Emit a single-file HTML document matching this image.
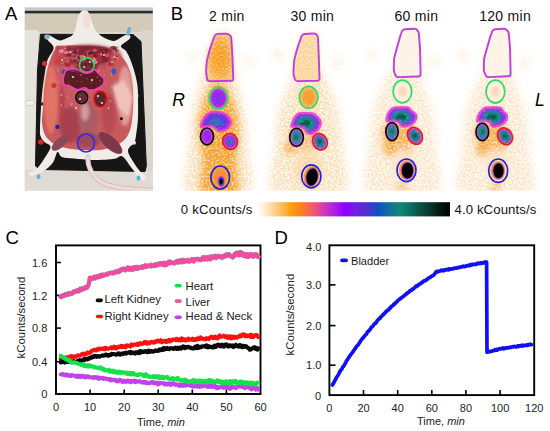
<!DOCTYPE html>
<html><head><meta charset="utf-8"><style>
html,body{margin:0;padding:0;background:#fff;overflow:hidden;width:550px;height:431px;}
svg{display:block;}
</style></head><body>
<svg width="550" height="431" viewBox="0 0 550 431" font-family="Liberation Sans, sans-serif">
<rect width="550" height="431" fill="#fff"/>
<defs>
<clipPath id="phclip"><rect x="24.8" y="7.6" width="128" height="182.8"/></clipPath>
<filter id="pb1" filterUnits="userSpaceOnUse" x="20" y="0" width="140" height="200"><feGaussianBlur stdDeviation="0.7"/></filter>
<filter id="pb2" filterUnits="userSpaceOnUse" x="20" y="0" width="140" height="200"><feGaussianBlur stdDeviation="1.8"/></filter>
<filter id="pb3" filterUnits="userSpaceOnUse" x="20" y="0" width="140" height="200"><feGaussianBlur stdDeviation="3"/></filter>
<filter id="ptex" filterUnits="userSpaceOnUse" x="20" y="0" width="140" height="200">
 <feTurbulence type="fractalNoise" baseFrequency="0.3" numOctaves="2" seed="4" result="n"/>
 <feColorMatrix in="n" type="matrix" values="0 0 0 0 1  0 0 0 0 0.82  0 0 0 0 0.84  0 0 0 2.6 -1.75" result="na"/>
 <feComposite in="na" in2="SourceGraphic" operator="in"/>
 <feGaussianBlur stdDeviation="0.35"/>
</filter>
<filter id="ptex2" filterUnits="userSpaceOnUse" x="20" y="0" width="140" height="200">
 <feTurbulence type="fractalNoise" baseFrequency="0.3" numOctaves="2" seed="9" result="n"/>
 <feColorMatrix in="n" type="matrix" values="0 0 0 0 0.35  0 0 0 0 0.05  0 0 0 0 0.1  0 0 0 2.4 -1.2" result="na"/>
 <feComposite in="na" in2="SourceGraphic" operator="in"/>
 <feGaussianBlur stdDeviation="0.5"/>
</filter>
</defs>
<g clip-path="url(#phclip)">
<rect x="24" y="7" width="130" height="184" fill="#dcd6cc"/>
<g filter="url(#pb1)"><rect x="20" y="13" width="140" height="19" fill="#d4cab8"/><rect x="20" y="30" width="18" height="142" fill="#e6e2dc"/><rect x="142" y="30" width="14" height="142" fill="#dbd6cd"/><rect x="20" y="170" width="140" height="22" fill="#dfdad3"/><path d="M40.5,34.2 L133.0,34.6 L141.0,41.5 L146.3,166.0 L145.0,171.5 L40.0,169.5 L35.5,166.0 L36.0,142.0 L37.5,70.0 Z" fill="#141414" stroke="#141414" stroke-width="1" stroke-linejoin="round"/><rect x="20" y="6" width="140" height="4.8" fill="#c5c8cc"/><rect x="20" y="10.8" width="140" height="2.6" fill="#2b2b2b"/><ellipse cx="30" cy="103" rx="5" ry="2.5" fill="#f2f0ec" stroke="#cfcac2" stroke-width="0.8"/></g><g filter="url(#pb1)"><path d="M83.5,10.5 C84.8,10.2 86.4,10.1 87.5,11.0 C88.6,11.9 89.2,14.0 90.0,16.0 C90.8,18.0 91.7,20.8 92.5,23.0 C93.3,25.2 93.8,27.5 95.0,29.5 C96.2,31.5 98.0,33.4 100.0,35.0 C102.0,36.6 104.7,38.0 107.0,39.0 C109.3,40.0 111.7,41.2 114.0,41.0 C116.3,40.8 118.9,38.6 121.0,37.5 C123.1,36.4 125.0,34.8 126.5,34.5 C128.0,34.2 129.5,34.8 130.0,35.5 C130.5,36.2 131.0,37.2 129.5,39.0 C128.0,40.8 121.6,44.0 121.0,46.0 C120.4,48.0 124.4,48.7 126.0,51.0 C127.6,53.3 129.1,56.5 130.5,60.0 C131.9,63.5 133.3,67.7 134.5,72.0 C135.7,76.3 136.9,81.3 137.5,86.0 C138.1,90.7 137.9,94.7 138.0,100.0 C138.1,105.3 138.2,112.7 138.0,118.0 C137.8,123.3 137.1,128.0 136.5,132.0 C135.9,136.0 135.9,138.9 134.5,142.0 C133.1,145.1 128.1,147.0 128.0,150.5 C127.9,154.0 131.8,159.3 134.0,163.0 C136.2,166.7 139.0,170.2 141.0,172.5 C143.0,174.8 145.7,175.7 146.0,177.0 C146.3,178.3 144.3,180.6 143.0,180.5 C141.7,180.4 140.0,178.8 138.0,176.5 C136.0,174.2 133.5,170.3 130.9,167.0 C128.3,163.7 125.0,157.9 122.5,156.5 C120.0,155.1 118.4,158.0 116.0,158.5 C113.6,159.0 112.0,159.2 108.0,159.5 C104.0,159.8 97.7,160.2 92.0,160.0 C86.3,159.8 79.0,159.0 74.0,158.5 C69.0,158.0 64.8,158.1 62.0,157.0 C59.2,155.9 59.0,151.1 57.5,152.0 C56.0,152.9 55.2,159.4 53.0,162.5 C50.8,165.6 47.4,168.6 44.0,170.8 C40.6,173.0 35.1,175.4 32.5,175.8 C29.9,176.2 27.9,174.6 28.5,173.5 C29.1,172.4 33.4,171.9 36.0,169.5 C38.6,167.1 41.6,162.8 44.0,159.0 C46.4,155.2 50.4,149.8 50.5,147.0 C50.6,144.2 46.2,143.8 44.5,142.0 C42.8,140.2 41.2,138.3 40.5,136.0 C39.8,133.7 39.9,132.7 40.0,128.0 C40.1,123.3 40.6,114.3 41.0,108.0 C41.4,101.7 41.8,96.0 42.5,90.0 C43.2,84.0 44.2,77.0 45.0,72.0 C45.8,67.0 46.1,64.0 47.5,60.0 C48.9,56.0 53.5,51.2 53.6,48.0 C53.7,44.8 49.4,42.3 48.0,40.5 C46.6,38.7 45.4,37.9 45.5,37.0 C45.6,36.1 46.9,34.8 48.5,35.0 C50.1,35.2 53.1,37.6 55.0,38.5 C56.9,39.4 58.2,40.5 60.0,40.5 C61.8,40.5 63.9,39.4 66.0,38.5 C68.1,37.6 70.9,36.7 72.5,35.0 C74.1,33.3 74.7,31.1 75.5,28.5 C76.3,25.9 76.5,22.1 77.3,19.5 C78.0,16.9 79.0,14.5 80.0,13.0 C81.0,11.5 82.2,10.8 83.5,10.5 Z" fill="#f1ece8"/><path d="M88,157 C87,167 93,178 104,183.5 C116,188.5 134,189.5 156,190.5" fill="none" stroke="#cdbab2" stroke-width="5" stroke-linecap="round"/><path d="M88,157 C87,167 93,178 104,183.5 C116,188.5 134,189.5 156,190.5" fill="none" stroke="#eedcd4" stroke-width="3.4" stroke-linecap="round"/><ellipse cx="86.5" cy="21" rx="4" ry="8" fill="#f2dedb"/></g><g filter="url(#pb1)"><path d="M57.0,47.0 C59.7,44.6 62.5,45.8 66.0,45.5 C69.5,45.2 73.2,45.4 78.0,45.5 C82.8,45.6 90.3,45.7 95.0,46.0 C99.7,46.3 102.8,46.7 106.0,47.5 C109.2,48.3 111.3,49.4 114.0,51.0 C116.7,52.6 119.8,54.8 122.0,57.0 C124.2,59.2 125.5,61.0 127.0,64.0 C128.5,67.0 130.0,71.0 131.0,75.0 C132.0,79.0 132.4,83.0 132.8,88.0 C133.2,93.0 133.4,99.3 133.2,105.0 C133.0,110.7 132.6,117.2 131.8,122.0 C131.0,126.8 130.1,130.7 128.5,134.0 C126.9,137.3 124.8,139.8 122.0,142.0 C119.2,144.2 115.7,145.7 112.0,147.0 C108.3,148.3 105.0,149.5 100.0,150.0 C95.0,150.5 87.7,150.3 82.0,150.0 C76.3,149.7 70.7,149.0 66.0,148.0 C61.3,147.0 57.5,146.2 54.0,144.0 C50.5,141.8 47.0,138.7 45.0,135.0 C43.0,131.3 42.3,126.5 42.0,122.0 C41.7,117.5 42.6,113.3 43.0,108.0 C43.4,102.7 43.6,95.8 44.2,90.0 C44.8,84.2 45.8,78.0 46.8,73.0 C47.8,68.0 48.3,64.3 50.0,60.0 C51.7,55.7 54.3,49.4 57.0,47.0 Z" fill="#c65a5e"/></g><g filter="url(#pb2)"><ellipse cx="51" cy="100" rx="7" ry="34" fill="#e27264"/><ellipse cx="62" cy="110" rx="3" ry="26" fill="#b84050"/><ellipse cx="125" cy="96" rx="7.5" ry="30" fill="#e29c98"/><path d="M112,86 L124,80 L133,98 L128,116 L118,108 Z" fill="#efc2bc"/><ellipse cx="109" cy="114" rx="7" ry="20" fill="#b84a54"/><ellipse cx="70" cy="125" rx="10" ry="18" fill="#a8404e"/><ellipse cx="88" cy="55" rx="30" ry="10" fill="#80222f"/><ellipse cx="60" cy="58" rx="6" ry="8" fill="#c84a4c"/><ellipse cx="116" cy="58" rx="6" ry="8" fill="#cc5858"/><ellipse cx="87" cy="65" rx="11" ry="9" fill="#7a2434"/><ellipse cx="88" cy="118" rx="10" ry="16" fill="#ac5c66"/><ellipse cx="85" cy="112" rx="4" ry="9" fill="#d49a9c"/><ellipse cx="88" cy="140" rx="12" ry="8" fill="#9c4c56"/></g><g filter="url(#pb1)"><path d="M63.2,79.0 C63.5,76.7 64.2,72.3 66.0,70.6 C67.8,68.9 72.0,68.8 74.3,68.8 C76.6,68.8 78.2,69.9 79.9,70.6 C81.6,71.3 82.8,72.7 84.5,73.0 C86.2,73.3 88.4,73.0 90.1,72.5 C91.8,72.0 93.2,69.4 94.7,69.7 C96.2,70.0 97.9,72.8 99.4,74.3 C101.0,75.8 103.4,77.3 104.0,79.0 C104.6,80.7 104.5,82.8 103.1,84.5 C101.7,86.2 98.0,88.3 95.7,89.2 C93.4,90.1 91.1,90.3 89.2,90.1 C87.3,89.9 86.5,88.0 84.5,87.9 C82.5,87.8 79.6,90.0 77.1,89.7 C74.6,89.4 71.9,86.9 69.7,86.0 C67.5,85.1 65.2,85.7 64.1,84.5 C63.0,83.3 62.9,81.3 63.2,79.0 Z" fill="#5c1a24"/><ellipse cx="81.7" cy="97.5" rx="6" ry="6.4" fill="#5e2a30"/><ellipse cx="100.3" cy="99" rx="6.4" ry="8.2" fill="#5e2028"/><ellipse cx="86.8" cy="65" rx="6.6" ry="6.6" fill="#6a2230"/><ellipse cx="60" cy="143" rx="4.6" ry="10.5" fill="#8a4a58" transform="rotate(48 60 143)"/><ellipse cx="110.5" cy="143" rx="6" ry="15" fill="#7e3848" transform="rotate(-48 110.5 143)"/></g><g filter="url(#pb1)"><ellipse cx="95.0" cy="61.1" rx="3.1" ry="2.8" fill="#e8a0a8" opacity="0.85"/><ellipse cx="113.3" cy="47.6" rx="2.8" ry="1.9" fill="#8a2434" opacity="0.85"/><ellipse cx="60.2" cy="50.0" rx="2.1" ry="1.5" fill="#6a1a28" opacity="0.85"/><ellipse cx="90.2" cy="57.9" rx="2.7" ry="2.0" fill="#b02838" opacity="0.85"/><ellipse cx="68.1" cy="63.5" rx="1.5" ry="1.4" fill="#8a2434" opacity="0.85"/><ellipse cx="65.5" cy="58.7" rx="1.5" ry="1.4" fill="#c83a48" opacity="0.85"/><ellipse cx="57.3" cy="61.7" rx="2.9" ry="2.1" fill="#c83a48" opacity="0.85"/><ellipse cx="115.7" cy="57.2" rx="2.5" ry="1.6" fill="#e8a0a8" opacity="0.85"/><ellipse cx="116.1" cy="50.7" rx="1.8" ry="1.3" fill="#8a2434" opacity="0.85"/><ellipse cx="67.1" cy="49.8" rx="1.9" ry="1.7" fill="#b02838" opacity="0.85"/><ellipse cx="92.8" cy="58.3" rx="1.9" ry="1.4" fill="#e8a0a8" opacity="0.85"/><ellipse cx="106.9" cy="56.1" rx="1.6" ry="1.2" fill="#6a1a28" opacity="0.85"/><ellipse cx="67.7" cy="51.9" rx="3.1" ry="2.3" fill="#b02838" opacity="0.85"/><ellipse cx="81.7" cy="57.4" rx="1.9" ry="1.6" fill="#8a2434" opacity="0.85"/><ellipse cx="57.6" cy="47.9" rx="2.4" ry="2.4" fill="#c83a48" opacity="0.85"/><ellipse cx="64.3" cy="51.7" rx="1.9" ry="1.4" fill="#8a2434" opacity="0.85"/><ellipse cx="63.6" cy="61.2" rx="2.9" ry="1.8" fill="#6a1a28" opacity="0.85"/><ellipse cx="114.7" cy="48.7" rx="2.2" ry="1.7" fill="#6a1a28" opacity="0.85"/><ellipse cx="66.0" cy="52.2" rx="2.3" ry="1.7" fill="#e8a0a8" opacity="0.85"/><ellipse cx="76.3" cy="50.4" rx="2.5" ry="2.2" fill="#b02838" opacity="0.85"/><ellipse cx="75.9" cy="56.2" rx="1.3" ry="1.3" fill="#e8a0a8" opacity="0.85"/><ellipse cx="89.5" cy="54.7" rx="2.7" ry="2.0" fill="#c83a48" opacity="0.85"/><ellipse cx="72.3" cy="59.4" rx="1.3" ry="1.3" fill="#c83a48" opacity="0.85"/><ellipse cx="59.0" cy="56.4" rx="1.5" ry="1.3" fill="#c83a48" opacity="0.85"/><ellipse cx="114.9" cy="59.0" rx="1.4" ry="1.1" fill="#8a2434" opacity="0.85"/><ellipse cx="66.1" cy="63.0" rx="1.5" ry="1.4" fill="#6a1a28" opacity="0.85"/><ellipse cx="94.8" cy="50.2" rx="2.1" ry="1.7" fill="#d85a60" opacity="0.85"/><ellipse cx="101.5" cy="56.1" rx="2.1" ry="2.1" fill="#6a1a28" opacity="0.85"/><ellipse cx="63.9" cy="62.6" rx="3.1" ry="2.7" fill="#d85a60" opacity="0.85"/><ellipse cx="87.5" cy="53.4" rx="2.2" ry="1.8" fill="#b02838" opacity="0.85"/><ellipse cx="90.4" cy="56.6" rx="2.8" ry="2.5" fill="#b02838" opacity="0.85"/><ellipse cx="99.4" cy="59.6" rx="1.9" ry="1.7" fill="#6a1a28" opacity="0.85"/><ellipse cx="74.1" cy="56.2" rx="2.6" ry="2.6" fill="#e8a0a8" opacity="0.85"/><ellipse cx="77.7" cy="50.4" rx="2.1" ry="2.0" fill="#b02838" opacity="0.85"/><ellipse cx="76.9" cy="52.2" rx="2.8" ry="2.4" fill="#6a1a28" opacity="0.85"/><ellipse cx="105.7" cy="53.6" rx="1.9" ry="1.8" fill="#e8a0a8" opacity="0.85"/><ellipse cx="67.5" cy="63.5" rx="3.2" ry="3.1" fill="#8a2434" opacity="0.85"/><ellipse cx="88.6" cy="57.1" rx="1.6" ry="1.2" fill="#c83a48" opacity="0.85"/><ellipse cx="109.1" cy="52.4" rx="2.6" ry="2.4" fill="#b02838" opacity="0.85"/><ellipse cx="67.5" cy="61.8" rx="2.2" ry="2.2" fill="#d85a60" opacity="0.85"/><ellipse cx="75.5" cy="57.5" rx="1.7" ry="1.7" fill="#e8a0a8" opacity="0.85"/><ellipse cx="68.9" cy="58.1" rx="2.5" ry="1.7" fill="#d85a60" opacity="0.85"/><ellipse cx="98.8" cy="59.0" rx="3.2" ry="3.1" fill="#b02838" opacity="0.85"/><ellipse cx="67.1" cy="63.9" rx="1.8" ry="1.2" fill="#b02838" opacity="0.85"/><ellipse cx="68.8" cy="47.7" rx="1.9" ry="1.6" fill="#8a2434" opacity="0.85"/><ellipse cx="61.4" cy="50.9" rx="3.0" ry="1.8" fill="#e8a0a8" opacity="0.85"/><ellipse cx="81.7" cy="52.3" rx="2.9" ry="2.6" fill="#8a2434" opacity="0.85"/><ellipse cx="90.5" cy="52.7" rx="2.3" ry="1.7" fill="#6a1a28" opacity="0.85"/><ellipse cx="106.9" cy="55.0" rx="2.5" ry="1.9" fill="#d85a60" opacity="0.85"/><ellipse cx="65.7" cy="58.3" rx="2.2" ry="1.5" fill="#d85a60" opacity="0.85"/><ellipse cx="65.1" cy="48.7" rx="1.2" ry="0.8" fill="#e8a0a8" opacity="0.85"/><ellipse cx="91.5" cy="58.7" rx="1.9" ry="1.8" fill="#c83a48" opacity="0.85"/><ellipse cx="91.4" cy="55.2" rx="2.2" ry="1.7" fill="#c83a48" opacity="0.85"/><ellipse cx="100.2" cy="54.3" rx="2.4" ry="1.7" fill="#c83a48" opacity="0.85"/><ellipse cx="116.8" cy="56.4" rx="1.2" ry="1.2" fill="#8a2434" opacity="0.85"/><ellipse cx="75.8" cy="64.7" rx="2.2" ry="1.4" fill="#c83a48" opacity="0.85"/><ellipse cx="94.9" cy="55.4" rx="1.3" ry="0.8" fill="#6a1a28" opacity="0.85"/><ellipse cx="80.9" cy="56.1" rx="1.7" ry="1.7" fill="#d85a60" opacity="0.85"/><ellipse cx="104.7" cy="51.7" rx="2.9" ry="2.6" fill="#6a1a28" opacity="0.85"/><ellipse cx="74.4" cy="56.4" rx="2.2" ry="2.1" fill="#8a2434" opacity="0.85"/><ellipse cx="110.7" cy="64.0" rx="2.7" ry="2.0" fill="#b02838" opacity="0.85"/><ellipse cx="89.5" cy="53.4" rx="2.7" ry="1.6" fill="#6a1a28" opacity="0.85"/><ellipse cx="78.3" cy="60.0" rx="1.5" ry="0.9" fill="#d85a60" opacity="0.85"/><ellipse cx="63.6" cy="60.1" rx="1.2" ry="1.1" fill="#c83a48" opacity="0.85"/><ellipse cx="83.1" cy="57.9" rx="3.1" ry="2.7" fill="#e8a0a8" opacity="0.85"/><ellipse cx="84" cy="67" rx="1.2" ry="0.9" fill="#f0d8dc" opacity="0.9"/><ellipse cx="90" cy="62" rx="1.2" ry="0.9" fill="#f0d8dc" opacity="0.9"/><ellipse cx="80" cy="99" rx="1.2" ry="0.9" fill="#f0d8dc" opacity="0.9"/><ellipse cx="98" cy="96" rx="1.2" ry="0.9" fill="#f0d8dc" opacity="0.9"/><ellipse cx="102" cy="103" rx="1.2" ry="0.9" fill="#f0d8dc" opacity="0.9"/><ellipse cx="73" cy="77" rx="1.2" ry="0.9" fill="#f0d8dc" opacity="0.9"/><ellipse cx="92" cy="80" rx="1.2" ry="0.9" fill="#f0d8dc" opacity="0.9"/><ellipse cx="70" cy="52" rx="1.2" ry="0.9" fill="#f0d8dc" opacity="0.9"/><ellipse cx="104" cy="55" rx="1.2" ry="0.9" fill="#f0d8dc" opacity="0.9"/><ellipse cx="112" cy="62" rx="1.2" ry="0.9" fill="#f0d8dc" opacity="0.9"/><ellipse cx="76" cy="108" rx="1.2" ry="0.9" fill="#f0d8dc" opacity="0.9"/><ellipse cx="62" cy="60" rx="1.2" ry="0.9" fill="#f0d8dc" opacity="0.9"/></g><g filter="url(#ptex2)"><path d="M56,46 L120,46 L118,72 L60,72 Z" fill="#fff"/></g><g filter="url(#ptex)"><path d="M55,46 L120,46 L118,110 L60,110 Z" fill="#fff"/></g><g filter="url(#pb1)"><ellipse cx="47" cy="37" rx="2.8" ry="2.4" fill="#7fb0d0"/><rect x="127" y="27" width="3.6" height="9" rx="1.5" fill="#6fb0d8" transform="rotate(15 129 31)"/><circle cx="44.6" cy="63.5" r="2.6" fill="#d82828"/><circle cx="53.9" cy="85.5" r="2.5" fill="#d03030"/><circle cx="40.8" cy="142" r="2.8" fill="#e02020"/><circle cx="41.8" cy="103.9" r="1.6" fill="#2a1a1a"/><circle cx="57.4" cy="126.9" r="2.2" fill="#1a2aa0"/><rect x="62" y="69.8" width="3.4" height="4" fill="#2850b0"/><ellipse cx="113.8" cy="71.5" rx="2.2" ry="3" fill="#2860c0"/><circle cx="121.4" cy="118.7" r="1.6" fill="#301818"/><circle cx="136.3" cy="95.7" r="2.2" fill="#e8e6f0"/><circle cx="134" cy="142.8" r="2" fill="#e8e6f0"/><ellipse cx="38.5" cy="176.5" rx="2" ry="2.6" fill="#60b0d8"/><ellipse cx="138.5" cy="178" rx="2" ry="2.6" fill="#60b0d8"/></g><g filter="url(#pb1)"><ellipse cx="86.8" cy="65" rx="7.4" ry="7.4" fill="none" stroke="#2ee048" stroke-width="1.6"/><path d="M63.2,79.0 C63.5,76.7 64.2,72.3 66.0,70.6 C67.8,68.9 72.0,68.8 74.3,68.8 C76.6,68.8 78.2,69.9 79.9,70.6 C81.6,71.3 82.8,72.7 84.5,73.0 C86.2,73.3 88.4,73.0 90.1,72.5 C91.8,72.0 93.2,69.4 94.7,69.7 C96.2,70.0 97.9,72.8 99.4,74.3 C101.0,75.8 103.4,77.3 104.0,79.0 C104.6,80.7 104.5,82.8 103.1,84.5 C101.7,86.2 98.0,88.3 95.7,89.2 C93.4,90.1 91.1,90.3 89.2,90.1 C87.3,89.9 86.5,88.0 84.5,87.9 C82.5,87.8 79.6,90.0 77.1,89.7 C74.6,89.4 71.9,86.9 69.7,86.0 C67.5,85.1 65.2,85.7 64.1,84.5 C63.0,83.3 62.9,81.3 63.2,79.0 Z" fill="none" stroke="#ee3cc0" stroke-width="1.7"/><ellipse cx="81.7" cy="97.5" rx="6" ry="6.4" fill="none" stroke="#101010" stroke-width="1.4"/><ellipse cx="100.3" cy="99" rx="6.5" ry="8.3" fill="none" stroke="#f01818" stroke-width="1.6"/><ellipse cx="86" cy="143" rx="8.4" ry="9" fill="none" stroke="#2a2af0" stroke-width="1.6"/></g></g><text x="5" y="20.2" font-size="18.5" font-family="Liberation Sans, sans-serif">A</text>
<defs>
<filter id="fhaze" filterUnits="userSpaceOnUse" x="160" y="15" width="390" height="180">
 <feGaussianBlur in="SourceGraphic" stdDeviation="4.5" result="b"/>
 <feTurbulence type="fractalNoise" baseFrequency="0.5" numOctaves="1" seed="3" result="n"/>
 <feColorMatrix in="n" type="matrix" values="0 0 0 0 0  0 0 0 0 0  0 0 0 0 0  0 0 0 2.6 -0.7" result="na"/>
 <feComposite in="b" in2="na" operator="in"/>
</filter>
<filter id="fcol" filterUnits="userSpaceOnUse" x="160" y="15" width="390" height="180">
 <feGaussianBlur in="SourceGraphic" stdDeviation="3.5" result="b"/>
 <feTurbulence type="fractalNoise" baseFrequency="0.5" numOctaves="1" seed="8" result="n"/>
 <feColorMatrix in="n" type="matrix" values="0 0 0 0 0  0 0 0 0 0  0 0 0 0 0  0 0 0 2.4 -0.4" result="na"/>
 <feComposite in="b" in2="na" operator="in"/>
</filter>
<filter id="fhead" filterUnits="userSpaceOnUse" x="160" y="15" width="390" height="180">
 <feGaussianBlur in="SourceGraphic" stdDeviation="1.4" result="b"/>
 <feTurbulence type="fractalNoise" baseFrequency="0.6" numOctaves="1" seed="12" result="n"/>
 <feColorMatrix in="n" type="matrix" values="0 0 0 0 0  0 0 0 0 0  0 0 0 0 0  0 0 0 2.4 -0.35" result="na"/>
 <feComposite in="b" in2="na" operator="in"/>
</filter>
<filter id="forg" filterUnits="userSpaceOnUse" x="160" y="15" width="390" height="180">
 <feGaussianBlur in="SourceGraphic" stdDeviation="0.8" result="b"/>
 <feTurbulence type="fractalNoise" baseFrequency="0.7" numOctaves="1" seed="21" result="n"/>
 <feColorMatrix in="n" type="matrix" values="0 0 0 0 0  0 0 0 0 0  0 0 0 0 0  0 0 0 2.6 0.02" result="na"/>
 <feComposite in="b" in2="na" operator="in"/>
</filter>
<filter id="fcore" x="-30%" y="-30%" width="160%" height="160%"><feGaussianBlur stdDeviation="0.7"/></filter>
<filter id="fout" x="-10%" y="-10%" width="120%" height="120%">
 <feGaussianBlur in="SourceGraphic" stdDeviation="0.3"/>
</filter>
<radialGradient id="hg1" cx="0.55" cy="0.5" r="0.6"><stop offset="0" stop-color="#f6981c"/><stop offset="0.6" stop-color="#f8a838"/><stop offset="1" stop-color="#fbc478"/></radialGradient>
<clipPath id="spclip"><rect x="160" y="22" width="390" height="168.8"/></clipPath>
</defs>
<g clip-path="url(#spclip)"><g filter="url(#fhaze)"><path d="M218.4,70.0 C223.1,70.0 229.1,71.3 232.4,74.0 C235.7,76.7 236.4,79.7 238.4,86.0 C240.4,92.3 242.7,101.3 244.4,112.0 C246.1,122.7 247.7,136.3 248.4,150.0 C249.1,163.7 258.4,186.7 248.4,194.0 C238.4,201.3 198.4,201.3 188.4,194.0 C178.4,186.7 187.7,163.7 188.4,150.0 C189.1,136.3 190.7,122.7 192.4,112.0 C194.1,101.3 196.4,92.3 198.4,86.0 C200.4,79.7 201.1,76.7 204.4,74.0 C207.7,71.3 213.7,70.0 218.4,70.0 Z" fill="#fcd8a8" opacity="0.9"/><path d="M215.2,31.5 C217.9,30.4 226.2,30.7 229.2,31.1 C232.1,31.5 231.9,30.1 232.7,34.1 C233.5,38.1 233.6,46.7 234.0,55.1 C234.4,63.4 239.8,79.1 235.2,84.0 C230.6,88.8 211.3,86.0 206.2,84.4 C201.1,82.8 204.7,78.2 204.5,74.5 C204.4,70.9 204.7,66.6 205.3,62.6 C205.9,58.5 207.1,54.6 208.3,50.5 C209.5,46.3 211.4,41.0 212.6,37.8 C213.7,34.7 212.4,32.7 215.2,31.5 Z" fill="#fcd8a8" opacity="0.63"/><ellipse cx="248.0" cy="61.0" rx="3.50" ry="6.00" fill="#fde0c0" transform="rotate(-20 248 61)" /><ellipse cx="192.0" cy="58.0" rx="3.50" ry="6.00" fill="#fde0c0" transform="rotate(20 192 58)" /></g><g filter="url(#fcol)"><path d="M212.4,84.0 C215.7,81.3 221.1,81.3 224.4,84.0 C227.7,86.7 230.1,93.2 232.4,100.0 C234.7,106.8 237.7,115.0 238.4,125.0 C239.1,135.0 236.7,148.5 236.4,160.0 C236.1,171.5 242.1,188.3 236.4,194.0 C230.7,199.7 208.1,199.7 202.4,194.0 C196.7,188.3 203.1,171.5 202.4,160.0 C201.7,148.5 198.1,135.0 198.4,125.0 C198.7,115.0 202.1,106.8 204.4,100.0 C206.7,93.2 209.1,86.7 212.4,84.0 Z" fill="#f7a02c"/><ellipse cx="218.4" cy="60.0" rx="10.00" ry="18.00" fill="#f9b860" /></g><g filter="url(#fhead)"><path d="M214.7,36.0 Q215.5,34.0 217.7,33.9 L225.8,33.7 Q228.0,33.6 229.6,35.0 L229.6,35.0 Q231.2,36.3 231.3,38.5 L232.2,52.8 Q232.3,55.0 232.4,57.2 L233.3,78.6 Q233.4,80.8 231.2,80.8 L209.7,81.2 Q207.5,81.2 207.1,79.0 L206.4,74.6 Q206.0,72.4 206.1,70.2 L206.6,63.9 Q206.7,61.7 207.2,59.6 L208.9,53.0 Q209.4,50.9 210.1,48.8 L212.5,41.7 Q213.2,39.6 214.0,37.6 Z" fill="url(#hg1)"/></g><g filter="url(#fhaze)"><path d="M308.6,70.0 C313.3,70.0 319.3,71.3 322.6,74.0 C325.9,76.7 325.9,79.7 328.6,86.0 C331.3,92.3 336.3,101.3 338.6,112.0 C340.9,122.7 341.9,136.3 342.6,150.0 C343.3,163.7 353.9,186.7 342.6,194.0 C331.3,201.3 285.9,201.3 274.6,194.0 C263.3,186.7 273.9,163.7 274.6,150.0 C275.3,136.3 276.3,122.7 278.6,112.0 C280.9,101.3 285.9,92.3 288.6,86.0 C291.3,79.7 291.3,76.7 294.6,74.0 C297.9,71.3 303.9,70.0 308.6,70.0 Z" fill="#fcd6a4" opacity="0.85"/><path d="M302.1,31.7 C304.9,30.8 313.9,30.5 316.8,30.9 C319.7,31.3 318.8,29.9 319.4,33.9 C320.0,38.0 320.0,46.7 320.3,55.0 C320.6,63.3 325.6,78.9 321.3,83.8 C316.9,88.7 299.1,85.7 294.2,84.5 C289.3,83.2 292.2,80.1 291.9,76.2 C291.7,72.3 292.0,65.8 292.7,61.0 C293.5,56.3 295.2,51.6 296.4,47.5 C297.7,43.4 299.3,38.8 300.2,36.2 C301.2,33.6 299.4,32.6 302.1,31.7 Z" fill="#fcd6a4" opacity="0.42"/><ellipse cx="277.4" cy="55.0" rx="3.50" ry="6.00" fill="#fbd8a8" transform="rotate(-30 277.4 55)" /><ellipse cx="337.7" cy="63.0" rx="3.50" ry="6.00" fill="#fbd8a8" transform="rotate(20 337.7 63)" /></g><g filter="url(#fcol)"><ellipse cx="304.6" cy="135.0" rx="16.00" ry="16.00" fill="#f9c078" /><ellipse cx="290.6" cy="148.0" rx="6.00" ry="6.00" fill="#f6a030" /><ellipse cx="308.6" cy="170.0" rx="14.00" ry="18.00" fill="#fcd8a8" /><ellipse cx="308.6" cy="98.0" rx="10.00" ry="12.00" fill="#fbd0a0" /></g><g filter="url(#fhead)"><path d="M301.6,36.1 Q302.5,34.1 304.7,34.0 L313.4,33.5 Q315.6,33.4 316.8,34.8 L316.8,34.8 Q317.9,36.1 318.0,38.3 L318.6,52.7 Q318.7,54.9 318.8,57.1 L319.5,78.4 Q319.6,80.6 317.4,80.7 L297.6,81.1 Q295.4,81.2 294.8,79.1 L294.0,75.9 Q293.4,73.8 293.5,71.6 L294.0,62.5 Q294.1,60.3 294.7,58.2 L296.8,50.3 Q297.4,48.2 298.1,46.1 L300.1,40.2 Q300.8,38.1 301.6,36.1 Z" fill="#fbd49a"/></g><g filter="url(#fhaze)"><path d="M402.4,70.0 C407.1,70.0 413.1,71.3 416.4,74.0 C419.7,76.7 419.7,79.7 422.4,86.0 C425.1,92.3 430.1,101.3 432.4,112.0 C434.7,122.7 435.7,136.3 436.4,150.0 C437.1,163.7 447.7,186.7 436.4,194.0 C425.1,201.3 379.7,201.3 368.4,194.0 C357.1,186.7 367.7,163.7 368.4,150.0 C369.1,136.3 370.1,122.7 372.4,112.0 C374.7,101.3 379.7,92.3 382.4,86.0 C385.1,79.7 385.1,76.7 388.4,74.0 C391.7,71.3 397.7,70.0 402.4,70.0 Z" fill="#fddcb4" opacity="0.8"/><path d="M402.4,26.9 C405.3,25.9 414.6,25.6 417.5,26.1 C420.5,26.6 419.5,26.2 420.2,29.9 C420.9,33.7 421.4,40.5 421.8,48.7 C422.1,57.0 426.8,74.3 422.3,79.5 C417.9,84.8 399.9,81.5 394.9,80.4 C389.9,79.3 392.6,76.4 392.2,72.9 C391.8,69.4 392.0,63.9 392.7,59.4 C393.4,54.8 395.1,50.3 396.4,45.7 C397.6,41.2 399.2,35.3 400.2,32.2 C401.2,29.0 399.5,27.9 402.4,26.9 Z" fill="#fddcb4" opacity="0.28"/><ellipse cx="372.0" cy="54.8" rx="3.50" ry="6.00" fill="#fcdcb4" transform="rotate(-30 372 54.8)" /><ellipse cx="434.7" cy="61.8" rx="3.50" ry="6.00" fill="#fcdcb4" transform="rotate(20 434.7 61.8)" /></g><g filter="url(#fcol)"><ellipse cx="398.4" cy="134.0" rx="17.00" ry="13.00" fill="#f8b050" /><ellipse cx="390.4" cy="148.0" rx="7.00" ry="8.00" fill="#f6a030" /><ellipse cx="406.4" cy="148.0" rx="6.00" ry="5.00" fill="#f9b860" /><ellipse cx="404.4" cy="165.0" rx="12.00" ry="14.00" fill="#fde2c0" /><ellipse cx="402.4" cy="187.0" rx="6.00" ry="4.00" fill="#f8b060" /></g><g filter="url(#fhead)"><path d="M401.9,31.4 Q402.8,29.4 405.0,29.3 L414.1,28.8 Q416.3,28.7 417.5,30.4 L417.5,30.4 Q418.7,32.1 418.9,34.3 L419.9,46.7 Q420.1,48.9 420.1,51.1 L420.6,74.2 Q420.6,76.4 418.4,76.5 L398.3,77.1 Q396.1,77.2 395.4,75.1 L394.4,72.6 Q393.7,70.5 393.8,68.3 L394.0,60.6 Q394.1,58.4 394.7,56.3 L396.8,48.3 Q397.4,46.2 398.0,44.1 L400.2,36.2 Q400.8,34.1 401.7,32.1 Z" fill="#fef2e4"/></g><g filter="url(#fhaze)"><path d="M495.4,70.0 C500.1,70.0 506.1,71.3 509.4,74.0 C512.7,76.7 512.7,79.7 515.4,86.0 C518.1,92.3 523.1,101.3 525.4,112.0 C527.7,122.7 528.7,136.3 529.4,150.0 C530.1,163.7 540.7,186.7 529.4,194.0 C518.1,201.3 472.7,201.3 461.4,194.0 C450.1,186.7 460.7,163.7 461.4,150.0 C462.1,136.3 463.1,122.7 465.4,112.0 C467.7,101.3 472.7,92.3 475.4,86.0 C478.1,79.7 478.1,76.7 481.4,74.0 C484.7,71.3 490.7,70.0 495.4,70.0 Z" fill="#fddcb4" opacity="0.8"/><path d="M492.7,26.9 C495.5,25.8 503.8,25.6 506.7,26.1 C509.7,26.6 509.4,26.1 510.2,29.9 C511.1,33.7 511.4,40.5 511.8,48.7 C512.1,57.0 516.8,74.0 512.3,79.3 C507.9,84.6 490.3,81.5 485.2,80.4 C480.2,79.4 482.6,76.4 482.2,72.9 C481.8,69.4 482.0,63.8 482.7,59.4 C483.4,55.0 485.1,50.9 486.4,46.5 C487.6,42.1 489.1,36.2 490.2,32.9 C491.2,29.7 490.0,28.0 492.7,26.9 Z" fill="#fddcb4" opacity="0.28"/><ellipse cx="463.2" cy="54.8" rx="3.50" ry="6.00" fill="#fcdcb4" transform="rotate(-30 463.2 54.8)" /><ellipse cx="525.4" cy="62.9" rx="3.50" ry="6.00" fill="#fcdcb4" transform="rotate(20 525.4 62.9)" /></g><g filter="url(#fcol)"><ellipse cx="491.4" cy="134.0" rx="17.00" ry="13.00" fill="#f8b050" /><ellipse cx="483.4" cy="148.0" rx="7.00" ry="8.00" fill="#f6a030" /><ellipse cx="499.4" cy="148.0" rx="6.00" ry="5.00" fill="#f9b860" /><ellipse cx="497.4" cy="165.0" rx="12.00" ry="14.00" fill="#fde2c0" /><ellipse cx="495.4" cy="187.0" rx="6.00" ry="4.00" fill="#f8b060" /></g><g filter="url(#fhead)"><path d="M492.2,31.4 Q493.1,29.4 495.3,29.3 L503.4,28.8 Q505.6,28.7 507.1,30.3 L507.2,30.5 Q508.7,32.1 508.9,34.3 L509.9,46.7 Q510.1,48.9 510.1,51.1 L510.6,74.0 Q510.6,76.2 508.4,76.3 L488.6,77.1 Q486.4,77.2 485.6,75.2 L484.5,72.5 Q483.7,70.5 483.8,68.3 L484.0,60.6 Q484.1,58.4 484.7,56.3 L486.8,49.0 Q487.4,46.9 488.0,44.8 L490.2,36.9 Q490.8,34.8 491.7,32.8 Z" fill="#fef2e4"/></g></g><g filter="url(#forg)"><ellipse cx="218.4" cy="98.2" rx="8.80" ry="10.50" fill="#d048c8" /><ellipse cx="218.4" cy="98.2" rx="7.74" ry="9.24" fill="#a020f4" /><ellipse cx="218.4" cy="98.2" rx="3.96" ry="4.73" fill="#7a30f0" /><path d="M200.7,126.4 C200.8,124.9 202.2,120.7 203.3,118.6 C204.4,116.5 205.9,115.0 207.5,113.9 C209.1,112.8 210.6,112.2 212.7,111.8 C214.8,111.4 217.7,111.4 220.0,111.8 C222.3,112.2 224.6,113.1 226.3,114.4 C228.1,115.7 229.7,118.0 230.5,119.6 C231.3,121.2 231.4,122.3 231.0,123.8 C230.6,125.3 229.7,127.2 227.9,128.5 C226.1,129.8 222.0,131.5 220.0,131.6 C218.0,131.7 217.1,129.8 215.9,129.0 C214.7,128.2 214.1,127.1 212.7,126.6 C211.3,126.1 209.2,126.1 207.5,126.2 C205.8,126.3 203.6,127.4 202.5,127.4 C201.4,127.4 200.6,127.9 200.7,126.4 Z" fill="#e44cc0"/><path d="M201.4,126.2 C201.6,124.8 202.8,120.8 203.9,118.8 C205.0,116.8 206.4,115.4 207.9,114.3 C209.4,113.2 210.9,112.6 212.8,112.3 C214.8,112.0 217.6,111.9 219.8,112.3 C221.9,112.7 224.1,113.6 225.8,114.8 C227.4,116.0 229.0,118.2 229.8,119.7 C230.5,121.2 230.6,122.3 230.2,123.7 C229.8,125.1 229.0,126.9 227.3,128.2 C225.5,129.4 221.7,131.0 219.8,131.1 C217.9,131.2 217.0,129.4 215.9,128.7 C214.7,127.9 214.2,126.8 212.8,126.4 C211.5,125.9 209.5,125.9 207.9,126.0 C206.3,126.1 204.2,127.1 203.2,127.1 C202.1,127.2 201.3,127.6 201.4,126.2 Z" fill="#a020f4"/><path d="M204.6,125.3 C204.7,124.2 205.7,121.1 206.5,119.5 C207.3,118.0 208.4,116.9 209.6,116.0 C210.8,115.2 211.9,114.7 213.5,114.5 C215.0,114.2 217.2,114.2 218.9,114.5 C220.5,114.8 222.2,115.4 223.5,116.4 C224.8,117.4 226.0,119.1 226.6,120.3 C227.2,121.4 227.3,122.3 227.0,123.4 C226.7,124.5 226.1,125.9 224.7,126.8 C223.3,127.8 220.3,129.1 218.9,129.1 C217.4,129.2 216.7,127.8 215.8,127.2 C214.9,126.6 214.5,125.8 213.5,125.4 C212.4,125.1 210.9,125.0 209.6,125.1 C208.3,125.2 206.7,126.0 205.9,126.0 C205.1,126.1 204.5,126.4 204.6,125.3 Z" fill="#5a3ae0"/><path d="M209.6,123.8 C209.7,123.2 210.2,121.5 210.7,120.7 C211.1,119.9 211.7,119.3 212.4,118.8 C213.0,118.4 213.6,118.1 214.4,118.0 C215.3,117.8 216.5,117.8 217.4,118.0 C218.3,118.2 219.2,118.5 219.9,119.0 C220.6,119.5 221.3,120.5 221.6,121.1 C221.9,121.7 221.9,122.2 221.8,122.8 C221.6,123.4 221.3,124.1 220.5,124.7 C219.8,125.2 218.2,125.9 217.4,125.9 C216.6,125.9 216.2,125.2 215.7,124.9 C215.2,124.5 215.0,124.1 214.4,123.9 C213.9,123.7 213.0,123.7 212.4,123.7 C211.7,123.8 210.8,124.2 210.4,124.2 C209.9,124.2 209.6,124.4 209.6,123.8 Z" fill="#2a70b8"/><ellipse cx="207.0" cy="136.4" rx="6.17" ry="7.98" fill="#c040e0" /><ellipse cx="207.0" cy="136.4" rx="5.33" ry="6.89" fill="#a020f4" /><ellipse cx="230.1" cy="141.4" rx="6.93" ry="7.60" fill="#c040e0" transform="rotate(-25 230.1 141.4)" /><ellipse cx="230.1" cy="141.4" rx="5.99" ry="6.56" fill="#a020f4" transform="rotate(-25 230.1 141.4)" /><ellipse cx="230.1" cy="141.4" rx="3.29" ry="3.60" fill="#4050d0" transform="rotate(-25 230.1 141.4)" /><ellipse cx="230.1" cy="141.4" rx="1.82" ry="2.00" fill="#168c88" transform="rotate(-25 230.1 141.4)" /></g><g filter="url(#fcore)"><ellipse cx="220.2" cy="177.5" rx="8.80" ry="10.90" fill="#f8a030" /><ellipse cx="220.2" cy="177.5" rx="6.16" ry="7.63" fill="#f29040" /><ellipse cx="221.2" cy="181.5" rx="3.60" ry="5.60" fill="#c040d0" /><ellipse cx="221.2" cy="181.5" rx="2.70" ry="4.20" fill="#5030e0" /><ellipse cx="221.2" cy="181.5" rx="1.98" ry="3.08" fill="#0a4a44" /><ellipse cx="221.2" cy="181.5" rx="1.44" ry="2.24" fill="#000" /></g><g filter="url(#fout)"><path d="M214.7,36.0 Q215.5,34.0 217.7,33.9 L225.8,33.7 Q228.0,33.6 229.6,35.0 L229.6,35.0 Q231.2,36.3 231.3,38.5 L232.2,52.8 Q232.3,55.0 232.4,57.2 L233.3,78.6 Q233.4,80.8 231.2,80.8 L209.7,81.2 Q207.5,81.2 207.1,79.0 L206.4,74.6 Q206.0,72.4 206.1,70.2 L206.6,63.9 Q206.7,61.7 207.2,59.6 L208.9,53.0 Q209.4,50.9 210.1,48.8 L212.5,41.7 Q213.2,39.6 214.0,37.6 Z" fill="none" stroke="#c23ee0" stroke-width="1.9" stroke-linejoin="round"/><ellipse cx="218.4" cy="98.2" rx="9.3" ry="11" fill="none" stroke="#36dc64" stroke-width="1.8"/><path d="M200.7,126.4 C200.8,124.9 202.2,120.7 203.3,118.6 C204.4,116.5 205.9,115.0 207.5,113.9 C209.1,112.8 210.6,112.2 212.7,111.8 C214.8,111.4 217.7,111.4 220.0,111.8 C222.3,112.2 224.6,113.1 226.3,114.4 C228.1,115.7 229.7,118.0 230.5,119.6 C231.3,121.2 231.4,122.3 231.0,123.8 C230.6,125.3 229.7,127.2 227.9,128.5 C226.1,129.8 222.0,131.5 220.0,131.6 C218.0,131.7 217.1,129.8 215.9,129.0 C214.7,128.2 214.1,127.1 212.7,126.6 C211.3,126.1 209.2,126.1 207.5,126.2 C205.8,126.3 203.6,127.4 202.5,127.4 C201.4,127.4 200.6,127.9 200.7,126.4 Z" fill="none" stroke="#f244c4" stroke-width="1.5"/><ellipse cx="207" cy="136.4" rx="6.5" ry="8.4" fill="none" stroke="#111" stroke-width="1.7"/><ellipse cx="230.1" cy="141.4" rx="7.3" ry="8.0" fill="none" stroke="#f01818" stroke-width="1.7" transform="rotate(-25 230.1 141.4)"/><ellipse cx="220.2" cy="177.5" rx="9.4" ry="11.5" fill="none" stroke="#2222e0" stroke-width="1.7"/></g><g filter="url(#forg)"><ellipse cx="308.6" cy="97.3" rx="8.60" ry="10.30" fill="#f8b050" /><ellipse cx="308.6" cy="97.3" rx="6.02" ry="7.21" fill="#f6a030" /><path d="M291.2,125.9 C291.3,124.5 292.8,120.6 293.8,118.6 C294.9,116.6 295.8,114.9 297.5,113.9 C299.2,112.9 301.2,112.9 303.8,112.8 C306.4,112.7 310.9,112.7 313.2,113.4 C315.5,114.1 316.6,115.5 317.9,117.0 C319.2,118.5 320.9,120.1 321.0,122.2 C321.1,124.3 319.9,127.7 318.4,129.6 C316.9,131.5 313.9,133.1 312.1,133.7 C310.3,134.3 308.8,134.1 307.4,133.2 C306.0,132.3 305.3,129.6 303.8,128.5 C302.3,127.5 300.2,127.2 298.5,126.9 C296.8,126.6 294.5,127.1 293.3,126.9 C292.1,126.7 291.1,127.3 291.2,125.9 Z" fill="#e44cc0"/><path d="M291.9,125.8 C292.0,124.5 293.4,120.7 294.4,118.8 C295.4,116.9 296.3,115.3 297.9,114.4 C299.5,113.5 301.4,113.4 303.9,113.3 C306.4,113.2 310.6,113.2 312.8,113.9 C315.0,114.6 316.0,115.9 317.3,117.3 C318.5,118.7 320.1,120.3 320.2,122.3 C320.3,124.2 319.2,127.5 317.8,129.3 C316.3,131.1 313.5,132.6 311.8,133.2 C310.0,133.7 308.6,133.5 307.3,132.7 C306.0,131.9 305.3,129.2 303.9,128.2 C302.5,127.2 300.5,127.0 298.9,126.7 C297.2,126.5 295.1,126.9 293.9,126.7 C292.8,126.6 291.8,127.1 291.9,125.8 Z" fill="#a020f4"/><path d="M294.9,125.2 C295.0,124.2 296.1,121.3 296.9,119.8 C297.6,118.3 298.4,117.1 299.6,116.3 C300.8,115.6 302.3,115.6 304.2,115.5 C306.2,115.5 309.5,115.5 311.2,116.0 C312.9,116.5 313.7,117.5 314.7,118.6 C315.6,119.7 316.9,120.9 317.0,122.5 C317.0,124.0 316.2,126.5 315.1,128.0 C314.0,129.4 311.7,130.5 310.4,131.0 C309.0,131.4 307.9,131.3 306.9,130.6 C305.9,130.0 305.3,127.9 304.2,127.1 C303.2,126.4 301.6,126.2 300.3,126.0 C299.0,125.8 297.4,126.1 296.5,126.0 C295.6,125.8 294.9,126.2 294.9,125.2 Z" fill="#3a48d0"/><path d="M296.6,124.9 C296.7,124.0 297.6,121.6 298.3,120.4 C298.9,119.1 299.5,118.1 300.6,117.5 C301.6,116.9 302.8,116.8 304.5,116.8 C306.1,116.7 308.8,116.7 310.3,117.2 C311.7,117.6 312.4,118.5 313.2,119.4 C314.0,120.3 315.1,121.3 315.1,122.6 C315.2,123.9 314.4,126.0 313.5,127.2 C312.6,128.4 310.7,129.4 309.6,129.7 C308.5,130.1 307.5,130.0 306.7,129.4 C305.8,128.9 305.4,127.2 304.5,126.5 C303.5,125.9 302.3,125.7 301.2,125.5 C300.1,125.4 298.7,125.6 297.9,125.5 C297.2,125.4 296.6,125.8 296.6,124.9 Z" fill="#168c88"/><path d="M300.9,124.1 C301.0,123.7 301.4,122.4 301.8,121.8 C302.1,121.1 302.4,120.6 303.0,120.3 C303.5,120.0 304.1,120.0 305.0,119.9 C305.8,119.9 307.2,119.9 308.0,120.1 C308.7,120.3 309.1,120.8 309.5,121.3 C309.9,121.7 310.5,122.3 310.5,122.9 C310.5,123.6 310.1,124.7 309.6,125.3 C309.2,125.9 308.2,126.4 307.6,126.6 C307.0,126.8 306.6,126.7 306.1,126.5 C305.7,126.2 305.5,125.3 305.0,124.9 C304.5,124.6 303.8,124.5 303.3,124.4 C302.7,124.4 302.0,124.5 301.6,124.4 C301.2,124.4 300.9,124.6 300.9,124.1 Z" fill="#0c5a50"/><ellipse cx="301.5" cy="124.3" rx="1.50" ry="1.20" fill="#06302a" /><ellipse cx="308.5" cy="122.3" rx="1.40" ry="1.10" fill="#06302a" /><ellipse cx="296.5" cy="137.4" rx="6.46" ry="8.55" fill="#b030e8" /><ellipse cx="296.5" cy="137.4" rx="5.44" ry="7.20" fill="#6040e0" /><ellipse cx="296.5" cy="137.4" rx="4.42" ry="5.85" fill="#168c88" /><ellipse cx="296.5" cy="137.4" rx="2.04" ry="2.70" fill="#0e6a60" /><ellipse cx="319.9" cy="141.8" rx="6.74" ry="7.98" fill="#b030e8" transform="rotate(-30 319.9 141.8)" /><ellipse cx="319.9" cy="141.8" rx="5.68" ry="6.72" fill="#5040d8" transform="rotate(-30 319.9 141.8)" /><ellipse cx="319.9" cy="141.8" rx="4.26" ry="5.04" fill="#168c88" transform="rotate(-30 319.9 141.8)" /><ellipse cx="319.9" cy="141.8" rx="2.13" ry="2.52" fill="#073a34" transform="rotate(-30 319.9 141.8)" /></g><g filter="url(#fcore)"><ellipse cx="311.3" cy="176.4" rx="8.90" ry="10.80" fill="#fde6c4" /><ellipse cx="311.4" cy="176.7" rx="8.20" ry="11.00" fill="#fbc060" transform="rotate(10 311.4 176.7)" /><ellipse cx="311.5" cy="176.8" rx="7.60" ry="10.50" fill="#f8a030" transform="rotate(10 311.5 176.8)" /><ellipse cx="311.8" cy="177.0" rx="6.60" ry="9.60" fill="#c848c0" transform="rotate(10 311.8 177)" /><ellipse cx="312.0" cy="177.0" rx="5.80" ry="8.80" fill="#3030a0" transform="rotate(10 312 177)" /><ellipse cx="312.0" cy="177.0" rx="5.40" ry="8.40" fill="#000" transform="rotate(10 312 177)" /></g><g filter="url(#fout)"><path d="M301.6,36.1 Q302.5,34.1 304.7,34.0 L313.4,33.5 Q315.6,33.4 316.8,34.8 L316.8,34.8 Q317.9,36.1 318.0,38.3 L318.6,52.7 Q318.7,54.9 318.8,57.1 L319.5,78.4 Q319.6,80.6 317.4,80.7 L297.6,81.1 Q295.4,81.2 294.8,79.1 L294.0,75.9 Q293.4,73.8 293.5,71.6 L294.0,62.5 Q294.1,60.3 294.7,58.2 L296.8,50.3 Q297.4,48.2 298.1,46.1 L300.1,40.2 Q300.8,38.1 301.6,36.1 Z" fill="none" stroke="#c23ee0" stroke-width="1.9" stroke-linejoin="round"/><ellipse cx="308.6" cy="97.3" rx="9.2" ry="10.9" fill="none" stroke="#36dc64" stroke-width="1.8"/><path d="M291.2,125.9 C291.3,124.5 292.8,120.6 293.8,118.6 C294.9,116.6 295.8,114.9 297.5,113.9 C299.2,112.9 301.2,112.9 303.8,112.8 C306.4,112.7 310.9,112.7 313.2,113.4 C315.5,114.1 316.6,115.5 317.9,117.0 C319.2,118.5 320.9,120.1 321.0,122.2 C321.1,124.3 319.9,127.7 318.4,129.6 C316.9,131.5 313.9,133.1 312.1,133.7 C310.3,134.3 308.8,134.1 307.4,133.2 C306.0,132.3 305.3,129.6 303.8,128.5 C302.3,127.5 300.2,127.2 298.5,126.9 C296.8,126.6 294.5,127.1 293.3,126.9 C292.1,126.7 291.1,127.3 291.2,125.9 Z" fill="none" stroke="#f244c4" stroke-width="1.5"/><ellipse cx="296.5" cy="137.4" rx="6.8" ry="9" fill="none" stroke="#111" stroke-width="1.7"/><ellipse cx="319.9" cy="141.8" rx="7.1" ry="8.4" fill="none" stroke="#f01818" stroke-width="1.7" transform="rotate(-30 319.9 141.8)"/><ellipse cx="311.3" cy="176.4" rx="9.6" ry="11.5" fill="none" stroke="#2222e0" stroke-width="1.7"/></g><g filter="url(#forg)"><ellipse cx="402.4" cy="91.5" rx="8.70" ry="10.70" fill="#fef0e0" /><ellipse cx="402.4" cy="91.5" rx="4.35" ry="5.35" fill="#fcdcb8" /><path d="M386.3,120.4 C386.2,119.1 386.9,115.6 387.8,113.6 C388.8,111.6 390.5,109.5 392.0,108.4 C393.5,107.4 394.1,107.5 396.7,107.3 C399.3,107.1 405.3,106.8 407.7,107.3 C410.1,107.8 409.9,109.3 411.3,110.4 C412.7,111.5 415.1,112.9 416.0,114.1 C416.9,115.3 417.0,116.2 416.6,117.8 C416.2,119.4 415.1,122.0 413.4,123.5 C411.6,125.0 408.1,126.2 406.1,126.6 C404.1,127.0 402.6,126.8 401.4,126.1 C400.2,125.4 400.1,123.4 398.8,122.5 C397.5,121.6 395.3,121.1 393.6,120.9 C391.9,120.7 389.6,121.5 388.4,121.4 C387.2,121.3 386.4,121.7 386.3,120.4 Z" fill="#e44cc0"/><path d="M387.0,120.2 C386.9,119.0 387.6,115.7 388.5,113.8 C389.4,111.9 391.0,109.8 392.5,108.8 C393.9,107.8 394.4,108.0 396.9,107.8 C399.4,107.6 405.1,107.3 407.4,107.8 C409.7,108.3 409.5,109.7 410.8,110.7 C412.1,111.8 414.4,113.1 415.3,114.3 C416.1,115.4 416.2,116.3 415.8,117.8 C415.4,119.3 414.4,121.8 412.8,123.2 C411.1,124.6 407.8,125.7 405.9,126.1 C404.0,126.5 402.5,126.3 401.4,125.7 C400.2,125.0 400.2,123.1 398.9,122.2 C397.7,121.4 395.6,120.9 394.0,120.7 C392.3,120.5 390.2,121.3 389.0,121.2 C387.9,121.1 387.1,121.5 387.0,120.2 Z" fill="#a020f4"/><path d="M390.2,119.6 C390.1,118.6 390.6,116.0 391.3,114.5 C392.0,113.0 393.3,111.5 394.4,110.7 C395.5,109.9 395.9,110.0 397.9,109.9 C399.8,109.7 404.2,109.5 406.0,109.9 C407.8,110.2 407.6,111.3 408.7,112.2 C409.7,113.0 411.5,114.0 412.1,114.9 C412.8,115.8 412.9,116.5 412.6,117.6 C412.3,118.8 411.5,120.8 410.2,121.9 C408.9,122.9 406.3,123.8 404.8,124.1 C403.3,124.5 402.2,124.3 401.3,123.8 C400.4,123.3 400.4,121.8 399.4,121.1 C398.4,120.5 396.8,120.1 395.6,119.9 C394.3,119.8 392.6,120.4 391.7,120.3 C390.8,120.2 390.2,120.5 390.2,119.6 Z" fill="#3a48d0"/><path d="M391.9,119.2 C391.9,118.4 392.3,116.2 392.9,115.0 C393.5,113.7 394.6,112.4 395.5,111.7 C396.4,111.1 396.8,111.2 398.4,111.0 C400.0,110.9 403.7,110.7 405.2,111.0 C406.7,111.4 406.6,112.3 407.4,113.0 C408.3,113.7 409.8,114.5 410.4,115.3 C410.9,116.0 411.0,116.6 410.7,117.6 C410.5,118.5 409.8,120.2 408.7,121.1 C407.7,122.0 405.5,122.7 404.2,123.0 C403.0,123.3 402.1,123.1 401.3,122.7 C400.6,122.3 400.5,121.0 399.7,120.5 C398.9,119.9 397.5,119.6 396.5,119.5 C395.4,119.4 394.0,119.8 393.2,119.8 C392.5,119.7 392.0,120.0 391.9,119.2 Z" fill="#168c88"/><path d="M396.4,118.2 C396.4,117.8 396.6,116.7 396.9,116.0 C397.2,115.4 397.7,114.7 398.2,114.4 C398.7,114.0 398.9,114.1 399.7,114.0 C400.6,113.9 402.5,113.8 403.2,114.0 C404.0,114.2 404.0,114.6 404.4,115.0 C404.8,115.4 405.6,115.8 405.9,116.2 C406.2,116.6 406.2,116.9 406.1,117.4 C406.0,117.9 405.6,118.7 405.1,119.2 C404.5,119.7 403.4,120.0 402.7,120.2 C402.1,120.3 401.6,120.2 401.2,120.0 C400.8,119.8 400.8,119.1 400.4,118.9 C400.0,118.6 399.3,118.4 398.7,118.4 C398.2,118.3 397.5,118.5 397.1,118.5 C396.7,118.5 396.4,118.6 396.4,118.2 Z" fill="#0c5a50"/><ellipse cx="397.2" cy="118.2" rx="1.50" ry="1.20" fill="#06302a" /><ellipse cx="404.2" cy="116.2" rx="1.40" ry="1.10" fill="#06302a" /><ellipse cx="392.0" cy="131.6" rx="6.01" ry="8.73" fill="#9a28f0" /><ellipse cx="392.0" cy="131.6" rx="4.96" ry="7.20" fill="#4848d8" /><ellipse cx="392.0" cy="131.6" rx="4.09" ry="5.94" fill="#168c88" /><ellipse cx="392.0" cy="131.6" rx="1.86" ry="2.70" fill="#0e6a60" /><ellipse cx="415.0" cy="135.8" rx="6.65" ry="8.36" fill="#b030e8" transform="rotate(-30 415 135.8)" /><ellipse cx="415.0" cy="135.8" rx="5.60" ry="7.04" fill="#5040d8" transform="rotate(-30 415 135.8)" /><ellipse cx="415.0" cy="135.8" rx="4.55" ry="5.72" fill="#168c88" transform="rotate(-30 415 135.8)" /><ellipse cx="415.0" cy="135.8" rx="2.10" ry="2.64" fill="#0a4a44" transform="rotate(-30 415 135.8)" /></g><g filter="url(#fcore)"><ellipse cx="406.5" cy="170.3" rx="8.80" ry="10.60" fill="#fde6c4" /><ellipse cx="406.9" cy="170.3" rx="8.30" ry="10.30" fill="#fbc060" /><ellipse cx="407.0" cy="170.4" rx="7.70" ry="9.80" fill="#f8a030" /><ellipse cx="407.3" cy="170.6" rx="6.70" ry="8.90" fill="#c848c0" /><ellipse cx="407.5" cy="170.6" rx="5.90" ry="8.10" fill="#3030a0" /><ellipse cx="407.5" cy="170.6" rx="5.50" ry="7.70" fill="#000" /></g><g filter="url(#fout)"><path d="M401.9,31.4 Q402.8,29.4 405.0,29.3 L414.1,28.8 Q416.3,28.7 417.5,30.4 L417.5,30.4 Q418.7,32.1 418.9,34.3 L419.9,46.7 Q420.1,48.9 420.1,51.1 L420.6,74.2 Q420.6,76.4 418.4,76.5 L398.3,77.1 Q396.1,77.2 395.4,75.1 L394.4,72.6 Q393.7,70.5 393.8,68.3 L394.0,60.6 Q394.1,58.4 394.7,56.3 L396.8,48.3 Q397.4,46.2 398.0,44.1 L400.2,36.2 Q400.8,34.1 401.7,32.1 Z" fill="none" stroke="#c23ee0" stroke-width="1.9" stroke-linejoin="round"/><ellipse cx="402.4" cy="91.5" rx="9.3" ry="11.3" fill="none" stroke="#36dc64" stroke-width="1.8"/><path d="M386.3,120.4 C386.2,119.1 386.9,115.6 387.8,113.6 C388.8,111.6 390.5,109.5 392.0,108.4 C393.5,107.4 394.1,107.5 396.7,107.3 C399.3,107.1 405.3,106.8 407.7,107.3 C410.1,107.8 409.9,109.3 411.3,110.4 C412.7,111.5 415.1,112.9 416.0,114.1 C416.9,115.3 417.0,116.2 416.6,117.8 C416.2,119.4 415.1,122.0 413.4,123.5 C411.6,125.0 408.1,126.2 406.1,126.6 C404.1,127.0 402.6,126.8 401.4,126.1 C400.2,125.4 400.1,123.4 398.8,122.5 C397.5,121.6 395.3,121.1 393.6,120.9 C391.9,120.7 389.6,121.5 388.4,121.4 C387.2,121.3 386.4,121.7 386.3,120.4 Z" fill="none" stroke="#f244c4" stroke-width="1.5"/><ellipse cx="392" cy="131.6" rx="6.2" ry="9.0" fill="none" stroke="#111" stroke-width="1.7"/><ellipse cx="415" cy="135.8" rx="7" ry="8.8" fill="none" stroke="#f01818" stroke-width="1.7" transform="rotate(-30 415 135.8)"/><ellipse cx="406.5" cy="170.3" rx="9.5" ry="11.3" fill="none" stroke="#2222e0" stroke-width="1.7"/></g><g filter="url(#forg)"><ellipse cx="495.4" cy="91.6" rx="8.80" ry="10.80" fill="#fef0e0" /><ellipse cx="495.4" cy="91.6" rx="4.40" ry="5.40" fill="#fcdcb8" /><path d="M476.8,120.9 C476.9,119.6 477.8,115.7 478.9,113.6 C480.0,111.5 482.5,109.4 483.6,108.4 C484.7,107.4 482.9,107.7 485.7,107.5 C488.5,107.3 497.4,106.8 500.3,107.5 C503.2,108.2 502.3,110.4 503.4,111.5 C504.4,112.6 506.0,113.0 506.6,114.1 C507.2,115.2 507.5,116.8 507.1,118.3 C506.8,119.8 506.3,121.6 504.5,123.0 C502.7,124.4 498.2,126.1 496.1,126.6 C494.0,127.1 492.9,126.8 491.9,126.1 C490.9,125.4 491.1,123.4 489.9,122.5 C488.7,121.6 486.5,121.1 484.6,120.9 C482.7,120.7 479.7,121.4 478.4,121.4 C477.1,121.4 476.7,122.2 476.8,120.9 Z" fill="#e44cc0"/><path d="M477.6,120.7 C477.6,119.5 478.5,115.8 479.6,113.8 C480.6,111.8 482.9,109.8 484.0,108.8 C485.1,107.9 483.4,108.1 486.0,108.0 C488.7,107.8 497.1,107.4 499.9,108.0 C502.7,108.6 501.8,110.7 502.8,111.8 C503.8,112.8 505.3,113.2 505.9,114.3 C506.5,115.3 506.7,116.8 506.3,118.3 C506.0,119.7 505.6,121.4 503.9,122.7 C502.1,124.0 497.9,125.6 495.9,126.1 C493.9,126.6 492.9,126.3 491.9,125.7 C490.9,125.0 491.2,123.1 490.0,122.2 C488.8,121.4 486.8,120.9 485.0,120.7 C483.1,120.5 480.3,121.2 479.1,121.2 C477.8,121.2 477.5,122.0 477.6,120.7 Z" fill="#a020f4"/><path d="M480.7,120.0 C480.8,119.0 481.5,116.1 482.3,114.6 C483.1,113.0 484.9,111.5 485.8,110.7 C486.6,110.0 485.3,110.2 487.3,110.0 C489.4,109.9 496.0,109.6 498.1,110.0 C500.3,110.5 499.7,112.2 500.4,113.0 C501.2,113.8 502.3,114.1 502.8,114.9 C503.3,115.8 503.4,116.9 503.2,118.0 C502.9,119.1 502.6,120.5 501.2,121.5 C499.9,122.5 496.6,123.8 495.0,124.2 C493.5,124.6 492.7,124.3 491.9,123.8 C491.2,123.3 491.3,121.8 490.4,121.1 C489.5,120.5 487.9,120.1 486.5,120.0 C485.1,119.8 482.9,120.3 481.9,120.3 C481.0,120.3 480.7,120.9 480.7,120.0 Z" fill="#3a48d0"/><path d="M482.6,119.5 C482.6,118.7 483.2,116.3 483.9,115.0 C484.6,113.7 486.1,112.4 486.8,111.8 C487.5,111.2 486.4,111.3 488.1,111.2 C489.8,111.1 495.3,110.8 497.1,111.2 C499.0,111.6 498.4,113.0 499.1,113.7 C499.7,114.4 500.7,114.6 501.0,115.3 C501.4,116.0 501.6,117.0 501.4,117.9 C501.1,118.8 500.9,120.0 499.7,120.8 C498.6,121.7 495.8,122.7 494.5,123.1 C493.2,123.4 492.6,123.2 491.9,122.8 C491.3,122.3 491.4,121.1 490.7,120.5 C489.9,120.0 488.6,119.6 487.4,119.5 C486.2,119.4 484.4,119.8 483.6,119.8 C482.8,119.8 482.5,120.3 482.6,119.5 Z" fill="#168c88"/><path d="M487.1,118.5 C487.2,118.0 487.4,116.8 487.8,116.1 C488.2,115.5 488.9,114.8 489.3,114.5 C489.7,114.1 489.1,114.2 490.0,114.2 C490.9,114.1 493.7,114.0 494.6,114.2 C495.6,114.4 495.3,115.1 495.6,115.4 C496.0,115.8 496.5,115.9 496.7,116.3 C496.9,116.6 496.9,117.2 496.8,117.6 C496.7,118.1 496.6,118.7 496.0,119.1 C495.4,119.6 494.0,120.1 493.3,120.3 C492.6,120.4 492.3,120.3 492.0,120.1 C491.6,119.9 491.7,119.2 491.3,119.0 C490.9,118.7 490.2,118.5 489.6,118.5 C489.0,118.4 488.1,118.6 487.6,118.6 C487.2,118.6 487.1,118.9 487.1,118.5 Z" fill="#0c5a50"/><ellipse cx="488.0" cy="118.3" rx="1.50" ry="1.20" fill="#06302a" /><ellipse cx="495.0" cy="116.3" rx="1.40" ry="1.10" fill="#06302a" /><ellipse cx="482.3" cy="131.9" rx="6.11" ry="8.44" fill="#9a28f0" /><ellipse cx="482.3" cy="131.9" rx="5.04" ry="6.96" fill="#4848d8" /><ellipse cx="482.3" cy="131.9" rx="4.16" ry="5.74" fill="#168c88" /><ellipse cx="482.3" cy="131.9" rx="1.89" ry="2.61" fill="#0e6a60" /><ellipse cx="505.0" cy="136.3" rx="6.65" ry="8.36" fill="#b030e8" transform="rotate(-30 505 136.3)" /><ellipse cx="505.0" cy="136.3" rx="5.60" ry="7.04" fill="#5040d8" transform="rotate(-30 505 136.3)" /><ellipse cx="505.0" cy="136.3" rx="4.55" ry="5.72" fill="#168c88" transform="rotate(-30 505 136.3)" /><ellipse cx="505.0" cy="136.3" rx="2.10" ry="2.64" fill="#0a4a44" transform="rotate(-30 505 136.3)" /></g><g filter="url(#fcore)"><ellipse cx="498.2" cy="170.7" rx="8.80" ry="11.00" fill="#fde6c4" /><ellipse cx="497.9" cy="170.5" rx="7.70" ry="9.80" fill="#fbc060" /><ellipse cx="498.0" cy="170.6" rx="7.10" ry="9.30" fill="#f8a030" /><ellipse cx="498.3" cy="170.8" rx="6.10" ry="8.40" fill="#c848c0" /><ellipse cx="498.5" cy="170.8" rx="5.30" ry="7.60" fill="#3030a0" /><ellipse cx="498.5" cy="170.8" rx="4.90" ry="7.20" fill="#000" /></g><g filter="url(#fout)"><path d="M492.2,31.4 Q493.1,29.4 495.3,29.3 L503.4,28.8 Q505.6,28.7 507.1,30.3 L507.2,30.5 Q508.7,32.1 508.9,34.3 L509.9,46.7 Q510.1,48.9 510.1,51.1 L510.6,74.0 Q510.6,76.2 508.4,76.3 L488.6,77.1 Q486.4,77.2 485.6,75.2 L484.5,72.5 Q483.7,70.5 483.8,68.3 L484.0,60.6 Q484.1,58.4 484.7,56.3 L486.8,49.0 Q487.4,46.9 488.0,44.8 L490.2,36.9 Q490.8,34.8 491.7,32.8 Z" fill="none" stroke="#c23ee0" stroke-width="1.9" stroke-linejoin="round"/><ellipse cx="495.4" cy="91.6" rx="9.4" ry="11.4" fill="none" stroke="#36dc64" stroke-width="1.8"/><path d="M476.8,120.9 C476.9,119.6 477.8,115.7 478.9,113.6 C480.0,111.5 482.5,109.4 483.6,108.4 C484.7,107.4 482.9,107.7 485.7,107.5 C488.5,107.3 497.4,106.8 500.3,107.5 C503.2,108.2 502.3,110.4 503.4,111.5 C504.4,112.6 506.0,113.0 506.6,114.1 C507.2,115.2 507.5,116.8 507.1,118.3 C506.8,119.8 506.3,121.6 504.5,123.0 C502.7,124.4 498.2,126.1 496.1,126.6 C494.0,127.1 492.9,126.8 491.9,126.1 C490.9,125.4 491.1,123.4 489.9,122.5 C488.7,121.6 486.5,121.1 484.6,120.9 C482.7,120.7 479.7,121.4 478.4,121.4 C477.1,121.4 476.7,122.2 476.8,120.9 Z" fill="none" stroke="#f244c4" stroke-width="1.5"/><ellipse cx="482.3" cy="131.9" rx="6.3" ry="8.7" fill="none" stroke="#111" stroke-width="1.7"/><ellipse cx="505" cy="136.3" rx="7" ry="8.8" fill="none" stroke="#f01818" stroke-width="1.7" transform="rotate(-30 505 136.3)"/><ellipse cx="498.2" cy="170.7" rx="9.5" ry="11.7" fill="none" stroke="#2222e0" stroke-width="1.7"/></g>
<text x="170.8" y="20.4" font-size="18.5" font-family="Liberation Sans, sans-serif">B</text>
<text x="226.8" y="20.5" font-size="14" letter-spacing="0.3" text-anchor="middle" font-family="Liberation Sans, sans-serif" fill="#111">2 min</text>
<text x="312.3" y="20.5" font-size="14" letter-spacing="0.3" text-anchor="middle" font-family="Liberation Sans, sans-serif" fill="#111">30 min</text>
<text x="416.4" y="20.5" font-size="14" letter-spacing="0.3" text-anchor="middle" font-family="Liberation Sans, sans-serif" fill="#111">60 min</text>
<text x="505.1" y="20.5" font-size="14" letter-spacing="0.3" text-anchor="middle" font-family="Liberation Sans, sans-serif" fill="#111">120 min</text>
<text x="172.2" y="105.9" font-size="17.5" font-style="italic" font-family="Liberation Sans, sans-serif">R</text>
<text x="535.1" y="105.9" font-size="17.5" font-style="italic" font-family="Liberation Sans, sans-serif">L</text>
<defs><linearGradient id="cb" x1="0" x2="1" y1="0" y2="0">
<stop offset="0" stop-color="#ffffff"/>
<stop offset="0.015" stop-color="#fffcf8"/>
<stop offset="0.054" stop-color="#fee8c8"/>
<stop offset="0.096" stop-color="#fdd090"/>
<stop offset="0.139" stop-color="#fcb850"/>
<stop offset="0.18" stop-color="#fca010"/>
<stop offset="0.232" stop-color="#ff8020"/>
<stop offset="0.288" stop-color="#f06060"/>
<stop offset="0.345" stop-color="#d040b0"/>
<stop offset="0.401" stop-color="#b020e0"/>
<stop offset="0.457" stop-color="#9000ff"/>
<stop offset="0.516" stop-color="#7020e0"/>
<stop offset="0.573" stop-color="#5030c8"/>
<stop offset="0.629" stop-color="#1050c0"/>
<stop offset="0.685" stop-color="#10709a"/>
<stop offset="0.742" stop-color="#108878"/>
<stop offset="0.775" stop-color="#0c7a68"/>
<stop offset="0.831" stop-color="#0a5a4a"/>
<stop offset="0.888" stop-color="#083c30"/>
<stop offset="0.944" stop-color="#041a14"/>
<stop offset="1" stop-color="#000000"/>
</linearGradient></defs>
<rect x="256" y="202.2" width="194" height="14.2" fill="url(#cb)"/>
<text x="180.8" y="214.2" font-size="13.2" letter-spacing="0.2" font-family="Liberation Sans, sans-serif" fill="#111">0 kCounts/s</text>
<text x="454.5" y="214" font-size="13.2" letter-spacing="0.1" font-family="Liberation Sans, sans-serif" fill="#111">4.0 kCounts/s</text>
<text x="5.5" y="244.3" font-size="18.5" font-family="Liberation Sans, sans-serif">C</text>
<rect x="56" y="245.4" width="204.5" height="148.6" fill="none" stroke="#000" stroke-width="1.9"/>
<line x1="56" y1="361.7" x2="61" y2="361.7" stroke="#000" stroke-width="1.6"/>
<text x="47.3" y="365.8" font-size="11" text-anchor="end" font-family="Liberation Sans, sans-serif" fill="#222">0.4</text>
<line x1="56" y1="328.1" x2="61" y2="328.1" stroke="#000" stroke-width="1.6"/>
<text x="47.3" y="332.2" font-size="11" text-anchor="end" font-family="Liberation Sans, sans-serif" fill="#222">0.8</text>
<line x1="56" y1="295.4" x2="61" y2="295.4" stroke="#000" stroke-width="1.6"/>
<text x="47.3" y="299.5" font-size="11" text-anchor="end" font-family="Liberation Sans, sans-serif" fill="#222">1.2</text>
<line x1="56" y1="262.5" x2="61" y2="262.5" stroke="#000" stroke-width="1.6"/>
<text x="47.3" y="266.6" font-size="11" text-anchor="end" font-family="Liberation Sans, sans-serif" fill="#222">1.6</text>
<text x="47.3" y="398.3" font-size="11" text-anchor="end" font-family="Liberation Sans, sans-serif" fill="#222">0</text>
<text x="56.0" y="411.3" font-size="11" text-anchor="middle" font-family="Liberation Sans, sans-serif" fill="#222">0</text>
<line x1="90.1" y1="394" x2="90.1" y2="389.5" stroke="#000" stroke-width="1.6"/>
<text x="90.1" y="411.3" font-size="11" text-anchor="middle" font-family="Liberation Sans, sans-serif" fill="#222">10</text>
<line x1="124.2" y1="394" x2="124.2" y2="389.5" stroke="#000" stroke-width="1.6"/>
<text x="124.2" y="411.3" font-size="11" text-anchor="middle" font-family="Liberation Sans, sans-serif" fill="#222">20</text>
<line x1="158.2" y1="394" x2="158.2" y2="389.5" stroke="#000" stroke-width="1.6"/>
<text x="158.2" y="411.3" font-size="11" text-anchor="middle" font-family="Liberation Sans, sans-serif" fill="#222">30</text>
<line x1="192.3" y1="394" x2="192.3" y2="389.5" stroke="#000" stroke-width="1.6"/>
<text x="192.3" y="411.3" font-size="11" text-anchor="middle" font-family="Liberation Sans, sans-serif" fill="#222">40</text>
<line x1="226.4" y1="394" x2="226.4" y2="389.5" stroke="#000" stroke-width="1.6"/>
<text x="226.4" y="411.3" font-size="11" text-anchor="middle" font-family="Liberation Sans, sans-serif" fill="#222">50</text>
<text x="260.5" y="411.3" font-size="11" text-anchor="middle" font-family="Liberation Sans, sans-serif" fill="#222">60</text>
<text x="161" y="425.5" font-size="11" text-anchor="middle" font-family="Liberation Sans, sans-serif" fill="#222">Time, <tspan font-style="italic">min</tspan></text>
<text transform="translate(24.8,317.6) rotate(-90)" font-size="11.4" text-anchor="middle" font-family="Liberation Sans, sans-serif" fill="#222">kCounts/second</text>
<path d="M60.7,374.4 L61.3,374.5 L61.9,373.9 L62.5,374.9 L63.1,374.0 L63.7,374.6 L64.3,374.9 L64.9,374.4 L65.5,375.6 L66.1,375.4 L66.7,374.5 L67.3,375.4 L67.9,374.5 L68.5,375.3 L69.1,376.0 L69.7,376.2 L70.3,375.9 L70.9,376.1 L71.5,375.0 L72.1,375.0 L72.7,375.6 L73.3,375.4 L73.9,375.6 L74.5,375.8 L75.1,376.4 L75.7,376.5 L76.3,376.8 L76.9,375.5 L77.5,377.0 L78.1,376.5 L78.7,375.9 L79.3,376.6 L79.9,375.6 L80.5,377.3 L81.1,376.7 L81.7,375.7 L82.3,376.6 L82.9,375.7 L83.5,375.8 L84.1,376.4 L84.7,377.6 L85.3,377.7 L85.9,376.1 L86.5,376.1 L87.1,376.6 L87.7,376.3 L88.3,377.3 L88.9,377.4 L89.5,376.8 L90.1,377.1 L90.7,377.3 L91.3,377.5 L91.9,377.5 L92.5,377.9 L93.1,377.1 L93.7,377.7 L94.3,376.9 L94.9,377.9 L95.5,377.7 L96.1,377.0 L96.7,377.8 L97.3,377.8 L97.9,378.6 L98.5,377.2 L99.1,379.0 L99.7,378.0 L100.3,377.9 L100.9,377.9 L101.5,378.4 L102.1,378.1 L102.7,377.7 L103.3,379.1 L103.9,378.2 L104.5,378.4 L105.1,378.7 L105.7,378.3 L106.3,378.7 L106.9,379.1 L107.5,378.9 L108.1,379.7 L108.7,379.6 L109.3,378.9 L109.9,379.1 L110.5,380.5 L111.1,379.3 L111.7,380.2 L112.3,379.9 L112.9,379.6 L113.5,379.8 L114.1,380.0 L114.7,380.0 L115.3,379.8 L115.9,381.0 L116.5,381.4 L117.1,381.3 L117.7,380.2 L118.3,381.5 L118.9,380.9 L119.5,380.5 L120.1,379.8 L120.7,380.3 L121.3,380.1 L121.9,381.5 L122.5,382.1 L123.1,381.7 L123.7,381.6 L124.3,380.6 L124.9,381.2 L125.5,381.9 L126.1,380.9 L126.7,381.8 L127.3,381.7 L127.9,380.5 L128.5,381.8 L129.1,381.6 L129.7,382.0 L130.3,380.7 L130.9,382.4 L131.5,381.0 L132.1,381.4 L132.7,381.4 L133.3,380.7 L133.9,380.7 L134.5,380.5 L135.1,382.4 L135.7,381.5 L136.3,381.1 L136.9,381.8 L137.5,381.4 L138.1,381.2 L138.7,381.6 L139.3,381.5 L139.9,381.0 L140.5,381.9 L141.1,381.7 L141.7,382.5 L142.3,381.9 L142.9,382.7 L143.5,382.6 L144.1,381.8 L144.7,382.7 L145.3,382.0 L145.9,383.0 L146.5,382.3 L147.1,383.4 L147.7,382.6 L148.3,383.1 L148.9,383.4 L149.5,383.2 L150.1,383.1 L150.7,382.9 L151.3,381.8 L151.9,381.8 L152.5,381.7 L153.1,382.2 L153.7,383.4 L154.3,383.2 L154.9,383.5 L155.5,383.3 L156.1,382.4 L156.7,383.5 L157.3,382.8 L157.9,384.6 L158.5,383.0 L159.1,384.1 L159.7,382.6 L160.3,383.4 L160.9,383.2 L161.5,383.2 L162.1,383.2 L162.7,383.2 L163.3,383.4 L163.9,383.1 L164.5,384.5 L165.1,384.1 L165.7,384.3 L166.3,383.5 L166.9,384.5 L167.5,384.3 L168.1,384.6 L168.7,383.4 L169.3,384.0 L169.9,383.2 L170.5,385.0 L171.1,384.3 L171.7,384.7 L172.3,383.6 L172.9,382.9 L173.5,383.8 L174.1,383.6 L174.7,384.5 L175.3,384.9 L175.9,384.2 L176.5,384.8 L177.1,384.5 L177.7,384.9 L178.3,384.5 L178.9,385.9 L179.5,384.3 L180.1,385.2 L180.7,385.9 L181.3,384.6 L181.9,384.4 L182.5,385.2 L183.1,386.0 L183.7,385.8 L184.3,384.7 L184.9,384.2 L185.5,385.7 L186.1,384.6 L186.7,385.5 L187.3,384.5 L187.9,384.9 L188.5,385.1 L189.1,385.1 L189.7,384.6 L190.3,385.8 L190.9,386.1 L191.5,384.7 L192.1,385.6 L192.7,386.7 L193.3,386.3 L193.9,386.7 L194.5,386.4 L195.1,386.5 L195.7,385.2 L196.3,385.7 L196.9,386.6 L197.5,385.5 L198.1,386.6 L198.7,386.9 L199.3,385.2 L199.9,385.6 L200.5,386.8 L201.1,386.4 L201.7,386.3 L202.3,385.4 L202.9,386.4 L203.5,386.2 L204.1,386.0 L204.7,385.9 L205.3,385.4 L205.9,385.8 L206.5,386.3 L207.1,386.2 L207.7,387.1 L208.3,387.2 L208.9,385.5 L209.5,384.9 L210.1,386.7 L210.7,385.3 L211.3,386.7 L211.9,387.0 L212.5,385.6 L213.1,385.7 L213.7,386.7 L214.3,385.7 L214.9,385.4 L215.5,387.8 L216.1,386.9 L216.7,387.3 L217.3,388.3 L217.9,386.7 L218.5,387.4 L219.1,387.9 L219.7,387.6 L220.3,387.0 L220.9,386.9 L221.5,386.8 L222.1,386.5 L222.7,386.5 L223.3,387.9 L223.9,386.2 L224.5,387.7 L225.1,386.6 L225.7,385.7 L226.3,388.0 L226.9,387.7 L227.5,386.1 L228.1,387.6 L228.7,388.2 L229.3,387.4 L229.9,389.0 L230.5,387.9 L231.1,388.1 L231.7,386.5 L232.3,386.5 L232.9,387.0 L233.5,387.4 L234.1,387.6 L234.7,387.1 L235.3,387.2 L235.9,388.2 L236.5,387.1 L237.1,387.5 L237.7,386.8 L238.3,386.4 L238.9,386.6 L239.5,386.7 L240.1,386.5 L240.7,386.5 L241.3,386.0 L241.9,386.9 L242.5,385.5 L243.1,386.7 L243.7,386.1 L244.3,387.1 L244.9,388.3 L245.5,386.0 L246.1,386.3 L246.7,387.1 L247.3,386.1 L247.9,387.0 L248.5,387.8 L249.1,387.8 L249.7,387.5 L250.3,388.7 L250.9,387.1 L251.5,389.6 L252.1,387.1 L252.7,386.9 L253.3,386.5 L253.9,387.9 L254.5,387.2 L255.1,388.4 L255.7,389.8 L256.3,387.7 L256.9,389.0 L257.5,387.9 L258.1,389.7" fill="none" stroke="#c241ec" stroke-width="3.8" stroke-linejoin="round" stroke-linecap="round"/>
<path d="M60.7,358.9 L61.3,358.0 L61.9,358.2 L62.5,358.8 L63.1,357.3 L63.7,358.0 L64.3,357.4 L64.9,358.4 L65.5,358.5 L66.1,357.2 L66.7,357.7 L67.3,357.5 L67.9,357.4 L68.5,356.8 L69.1,357.1 L69.7,356.6 L70.3,356.8 L70.9,355.9 L71.5,356.9 L72.1,356.3 L72.7,357.5 L73.3,356.3 L73.9,356.9 L74.5,356.5 L75.1,356.9 L75.7,356.4 L76.3,356.9 L76.9,356.3 L77.5,355.3 L78.1,355.6 L78.7,355.5 L79.3,355.7 L79.9,355.1 L80.5,355.5 L81.1,354.7 L81.7,354.0 L82.3,354.6 L82.9,354.6 L83.5,353.6 L84.1,354.8 L84.7,354.0 L85.3,353.4 L85.9,354.4 L86.5,353.4 L87.1,353.2 L87.7,352.3 L88.3,353.5 L88.9,353.3 L89.5,352.8 L90.1,352.4 L90.7,352.5 L91.3,351.0 L91.9,351.1 L92.5,350.4 L93.1,350.6 L93.7,350.2 L94.3,349.5 L94.9,349.9 L95.5,350.4 L96.1,350.6 L96.7,350.4 L97.3,349.1 L97.9,348.7 L98.5,349.2 L99.1,349.6 L99.7,348.5 L100.3,349.1 L100.9,348.5 L101.5,349.0 L102.1,348.9 L102.7,348.5 L103.3,348.2 L103.9,349.3 L104.5,348.1 L105.1,349.3 L105.7,347.6 L106.3,348.7 L106.9,348.5 L107.5,348.3 L108.1,348.9 L108.7,348.3 L109.3,348.3 L109.9,348.1 L110.5,348.1 L111.1,347.2 L111.7,348.5 L112.3,348.3 L112.9,348.3 L113.5,347.5 L114.1,346.5 L114.7,346.7 L115.3,348.5 L115.9,347.0 L116.5,348.5 L117.1,347.6 L117.7,347.1 L118.3,347.4 L118.9,346.4 L119.5,347.0 L120.1,346.5 L120.7,347.1 L121.3,345.7 L121.9,346.0 L122.5,347.1 L123.1,345.9 L123.7,347.1 L124.3,346.3 L124.9,347.0 L125.5,347.4 L126.1,346.6 L126.7,345.2 L127.3,345.4 L127.9,346.2 L128.5,345.8 L129.1,345.4 L129.7,346.1 L130.3,346.7 L130.9,345.7 L131.5,344.3 L132.1,345.6 L132.7,345.7 L133.3,345.1 L133.9,344.7 L134.5,344.4 L135.1,344.1 L135.7,344.9 L136.3,344.8 L136.9,345.1 L137.5,343.7 L138.1,343.8 L138.7,345.0 L139.3,343.4 L139.9,344.0 L140.5,343.1 L141.1,344.0 L141.7,344.1 L142.3,344.2 L142.9,343.1 L143.5,343.2 L144.1,343.3 L144.7,341.7 L145.3,342.6 L145.9,342.9 L146.5,342.0 L147.1,344.0 L147.7,342.4 L148.3,343.1 L148.9,343.2 L149.5,343.4 L150.1,342.8 L150.7,341.9 L151.3,341.7 L151.9,342.3 L152.5,342.6 L153.1,342.3 L153.7,341.8 L154.3,342.7 L154.9,341.7 L155.5,341.9 L156.1,342.0 L156.7,340.6 L157.3,340.5 L157.9,340.5 L158.5,341.4 L159.1,341.6 L159.7,341.8 L160.3,340.8 L160.9,340.1 L161.5,340.6 L162.1,342.4 L162.7,341.1 L163.3,341.2 L163.9,340.9 L164.5,340.7 L165.1,340.6 L165.7,342.1 L166.3,342.2 L166.9,341.9 L167.5,340.6 L168.1,340.4 L168.7,341.4 L169.3,339.8 L169.9,341.6 L170.5,340.9 L171.1,340.8 L171.7,340.4 L172.3,339.4 L172.9,340.2 L173.5,339.4 L174.1,339.4 L174.7,339.3 L175.3,339.9 L175.9,340.2 L176.5,338.6 L177.1,339.7 L177.7,339.7 L178.3,340.4 L178.9,339.6 L179.5,339.0 L180.1,339.6 L180.7,340.7 L181.3,339.9 L181.9,338.3 L182.5,340.1 L183.1,339.7 L183.7,339.0 L184.3,340.3 L184.9,339.8 L185.5,339.7 L186.1,340.6 L186.7,340.1 L187.3,339.0 L187.9,339.5 L188.5,338.4 L189.1,340.0 L189.7,339.4 L190.3,339.6 L190.9,339.8 L191.5,339.3 L192.1,339.8 L192.7,338.4 L193.3,340.1 L193.9,339.8 L194.5,340.2 L195.1,339.2 L195.7,339.4 L196.3,338.8 L196.9,339.8 L197.5,338.3 L198.1,338.9 L198.7,338.3 L199.3,339.2 L199.9,337.5 L200.5,337.2 L201.1,338.7 L201.7,338.0 L202.3,338.6 L202.9,338.6 L203.5,338.7 L204.1,339.2 L204.7,338.9 L205.3,339.5 L205.9,338.9 L206.5,338.0 L207.1,338.9 L207.7,338.5 L208.3,339.0 L208.9,339.2 L209.5,337.8 L210.1,337.4 L210.7,337.5 L211.3,336.6 L211.9,337.6 L212.5,337.3 L213.1,338.2 L213.7,338.0 L214.3,336.8 L214.9,336.5 L215.5,338.0 L216.1,337.3 L216.7,337.4 L217.3,337.3 L217.9,338.6 L218.5,336.2 L219.1,336.9 L219.7,335.3 L220.3,336.1 L220.9,336.9 L221.5,336.5 L222.1,336.7 L222.7,336.5 L223.3,336.2 L223.9,335.4 L224.5,336.2 L225.1,337.0 L225.7,337.3 L226.3,337.1 L226.9,336.2 L227.5,338.0 L228.1,336.2 L228.7,337.4 L229.3,336.3 L229.9,338.2 L230.5,337.1 L231.1,336.3 L231.7,338.6 L232.3,337.2 L232.9,337.8 L233.5,336.5 L234.1,336.9 L234.7,337.9 L235.3,336.7 L235.9,337.6 L236.5,337.2 L237.1,337.7 L237.7,336.8 L238.3,336.3 L238.9,336.5 L239.5,335.6 L240.1,336.8 L240.7,336.6 L241.3,336.2 L241.9,334.7 L242.5,335.7 L243.1,334.3 L243.7,334.1 L244.3,335.2 L244.9,336.3 L245.5,335.2 L246.1,335.0 L246.7,336.3 L247.3,336.4 L247.9,336.3 L248.5,335.6 L249.1,335.7 L249.7,335.1 L250.3,334.8 L250.9,337.2 L251.5,334.7 L252.1,337.0 L252.7,336.8 L253.3,337.2 L253.9,336.4 L254.5,335.3 L255.1,335.3 L255.7,334.7 L256.3,335.6 L256.9,335.0 L257.5,335.5 L258.1,337.1" fill="none" stroke="#ff1010" stroke-width="3.8" stroke-linejoin="round" stroke-linecap="round"/>
<path d="M60.7,362.6 L61.3,361.0 L61.9,362.2 L62.5,361.6 L63.1,362.1 L63.7,361.4 L64.3,361.7 L64.9,362.7 L65.5,362.1 L66.1,361.6 L66.7,361.0 L67.3,361.4 L67.9,362.2 L68.5,361.8 L69.1,360.8 L69.7,360.9 L70.3,362.3 L70.9,361.1 L71.5,362.1 L72.1,362.3 L72.7,362.1 L73.3,362.2 L73.9,361.0 L74.5,361.8 L75.1,361.4 L75.7,361.8 L76.3,361.5 L76.9,361.4 L77.5,360.8 L78.1,361.5 L78.7,360.7 L79.3,360.2 L79.9,359.9 L80.5,360.2 L81.1,360.2 L81.7,360.9 L82.3,360.3 L82.9,360.2 L83.5,359.3 L84.1,360.3 L84.7,358.8 L85.3,359.8 L85.9,358.9 L86.5,358.6 L87.1,358.8 L87.7,359.4 L88.3,358.4 L88.9,358.0 L89.5,358.7 L90.1,358.3 L90.7,357.3 L91.3,357.6 L91.9,357.8 L92.5,357.1 L93.1,356.1 L93.7,356.1 L94.3,356.9 L94.9,355.7 L95.5,356.1 L96.1,356.2 L96.7,356.9 L97.3,355.9 L97.9,355.9 L98.5,356.5 L99.1,356.7 L99.7,356.8 L100.3,355.8 L100.9,355.9 L101.5,355.8 L102.1,355.4 L102.7,355.8 L103.3,355.2 L103.9,355.5 L104.5,355.7 L105.1,355.6 L105.7,354.4 L106.3,354.3 L106.9,354.9 L107.5,355.6 L108.1,355.9 L108.7,354.8 L109.3,354.9 L109.9,355.4 L110.5,354.5 L111.1,354.9 L111.7,353.7 L112.3,353.8 L112.9,354.2 L113.5,353.8 L114.1,353.8 L114.7,354.2 L115.3,354.5 L115.9,354.8 L116.5,354.8 L117.1,354.3 L117.7,353.4 L118.3,354.2 L118.9,353.2 L119.5,353.9 L120.1,354.8 L120.7,353.7 L121.3,354.0 L121.9,354.2 L122.5,353.2 L123.1,354.1 L123.7,353.3 L124.3,353.3 L124.9,353.3 L125.5,352.5 L126.1,353.8 L126.7,353.2 L127.3,352.8 L127.9,352.6 L128.5,352.6 L129.1,351.9 L129.7,353.1 L130.3,353.4 L130.9,351.8 L131.5,353.3 L132.1,352.9 L132.7,352.6 L133.3,352.4 L133.9,352.7 L134.5,353.5 L135.1,353.7 L135.7,352.2 L136.3,352.1 L136.9,352.8 L137.5,352.7 L138.1,351.8 L138.7,353.4 L139.3,351.9 L139.9,350.9 L140.5,352.9 L141.1,351.2 L141.7,351.2 L142.3,352.1 L142.9,351.7 L143.5,351.4 L144.1,352.1 L144.7,351.3 L145.3,350.9 L145.9,351.4 L146.5,351.3 L147.1,352.3 L147.7,350.8 L148.3,350.4 L148.9,352.1 L149.5,351.0 L150.1,350.7 L150.7,351.8 L151.3,350.9 L151.9,350.8 L152.5,351.4 L153.1,351.8 L153.7,351.0 L154.3,350.9 L154.9,351.0 L155.5,350.2 L156.1,351.1 L156.7,351.0 L157.3,350.8 L157.9,350.2 L158.5,351.0 L159.1,350.5 L159.7,349.3 L160.3,350.2 L160.9,350.3 L161.5,349.6 L162.1,348.8 L162.7,349.3 L163.3,350.1 L163.9,347.8 L164.5,349.6 L165.1,349.5 L165.7,349.3 L166.3,348.3 L166.9,347.8 L167.5,349.1 L168.1,348.9 L168.7,348.4 L169.3,349.3 L169.9,348.1 L170.5,348.3 L171.1,348.1 L171.7,348.3 L172.3,348.2 L172.9,348.2 L173.5,349.1 L174.1,348.5 L174.7,348.2 L175.3,347.4 L175.9,348.0 L176.5,349.1 L177.1,348.2 L177.7,347.6 L178.3,348.2 L178.9,349.0 L179.5,348.6 L180.1,347.4 L180.7,347.3 L181.3,348.7 L181.9,348.1 L182.5,347.0 L183.1,346.2 L183.7,346.4 L184.3,346.7 L184.9,348.4 L185.5,347.7 L186.1,347.2 L186.7,346.7 L187.3,347.4 L187.9,346.6 L188.5,346.6 L189.1,347.6 L189.7,347.9 L190.3,347.9 L190.9,347.4 L191.5,348.4 L192.1,348.1 L192.7,348.7 L193.3,348.8 L193.9,347.7 L194.5,347.2 L195.1,346.5 L195.7,347.2 L196.3,348.3 L196.9,348.2 L197.5,345.7 L198.1,346.4 L198.7,348.0 L199.3,347.1 L199.9,346.6 L200.5,347.1 L201.1,347.5 L201.7,346.4 L202.3,346.2 L202.9,346.1 L203.5,346.5 L204.1,346.2 L204.7,345.8 L205.3,346.1 L205.9,347.1 L206.5,345.3 L207.1,346.3 L207.7,345.8 L208.3,347.5 L208.9,347.1 L209.5,346.3 L210.1,346.6 L210.7,347.0 L211.3,347.3 L211.9,346.7 L212.5,347.7 L213.1,347.6 L213.7,346.4 L214.3,345.4 L214.9,347.3 L215.5,346.9 L216.1,347.0 L216.7,345.2 L217.3,344.7 L217.9,345.2 L218.5,344.5 L219.1,344.6 L219.7,346.3 L220.3,346.5 L220.9,345.4 L221.5,344.6 L222.1,344.5 L222.7,346.4 L223.3,345.8 L223.9,346.8 L224.5,345.6 L225.1,344.4 L225.7,344.4 L226.3,344.2 L226.9,345.3 L227.5,346.5 L228.1,345.7 L228.7,345.2 L229.3,346.5 L229.9,345.1 L230.5,345.2 L231.1,345.5 L231.7,346.4 L232.3,346.1 L232.9,345.3 L233.5,347.3 L234.1,346.3 L234.7,346.3 L235.3,345.7 L235.9,344.6 L236.5,345.9 L237.1,346.3 L237.7,345.9 L238.3,346.3 L238.9,346.8 L239.5,344.9 L240.1,344.9 L240.7,346.2 L241.3,347.1 L241.9,347.4 L242.5,345.8 L243.1,347.0 L243.7,345.8 L244.3,346.9 L244.9,346.4 L245.5,346.7 L246.1,346.0 L246.7,346.8 L247.3,347.2 L247.9,348.2 L248.5,348.3 L249.1,348.1 L249.7,349.9 L250.3,349.7 L250.9,349.6 L251.5,348.9 L252.1,348.8 L252.7,348.1 L253.3,347.4 L253.9,347.5 L254.5,347.0 L255.1,348.5 L255.7,349.0 L256.3,347.7 L256.9,348.5 L257.5,349.8 L258.1,348.2" fill="none" stroke="#0a0a0a" stroke-width="3.8" stroke-linejoin="round" stroke-linecap="round"/>
<path d="M60.7,355.6 L61.3,355.9 L61.9,356.5 L62.5,357.6 L63.1,357.2 L63.7,357.6 L64.3,357.4 L64.9,358.9 L65.5,359.2 L66.1,358.7 L66.7,359.6 L67.3,360.3 L67.9,359.6 L68.5,360.8 L69.1,360.3 L69.7,360.4 L70.3,362.1 L70.9,361.4 L71.5,362.1 L72.1,362.9 L72.7,362.3 L73.3,362.5 L73.9,362.2 L74.5,362.1 L75.1,363.0 L75.7,362.9 L76.3,362.8 L76.9,363.1 L77.5,363.2 L78.1,363.6 L78.7,364.4 L79.3,364.2 L79.9,363.9 L80.5,364.1 L81.1,365.0 L81.7,364.5 L82.3,364.7 L82.9,365.0 L83.5,365.8 L84.1,366.1 L84.7,364.8 L85.3,366.0 L85.9,366.4 L86.5,366.4 L87.1,365.3 L87.7,365.3 L88.3,366.8 L88.9,365.2 L89.5,365.4 L90.1,366.1 L90.7,365.7 L91.3,366.6 L91.9,366.0 L92.5,366.1 L93.1,366.3 L93.7,366.8 L94.3,367.7 L94.9,366.9 L95.5,367.1 L96.1,367.6 L96.7,367.5 L97.3,367.4 L97.9,368.3 L98.5,368.0 L99.1,367.5 L99.7,367.4 L100.3,368.6 L100.9,367.2 L101.5,368.6 L102.1,368.7 L102.7,369.5 L103.3,369.9 L103.9,368.8 L104.5,370.0 L105.1,370.5 L105.7,370.0 L106.3,370.2 L106.9,370.2 L107.5,370.6 L108.1,371.0 L108.7,369.8 L109.3,371.7 L109.9,370.2 L110.5,370.5 L111.1,371.8 L111.7,370.6 L112.3,371.4 L112.9,372.3 L113.5,370.5 L114.1,370.8 L114.7,371.3 L115.3,372.6 L115.9,372.4 L116.5,371.9 L117.1,372.2 L117.7,373.1 L118.3,372.6 L118.9,371.4 L119.5,372.3 L120.1,372.8 L120.7,372.1 L121.3,372.6 L121.9,373.0 L122.5,371.9 L123.1,372.5 L123.7,372.6 L124.3,372.8 L124.9,372.4 L125.5,373.2 L126.1,373.3 L126.7,373.9 L127.3,372.6 L127.9,373.1 L128.5,374.2 L129.1,374.1 L129.7,374.1 L130.3,372.7 L130.9,373.1 L131.5,374.4 L132.1,372.9 L132.7,373.9 L133.3,374.3 L133.9,373.1 L134.5,374.6 L135.1,374.4 L135.7,374.6 L136.3,374.7 L136.9,375.2 L137.5,375.3 L138.1,375.1 L138.7,374.9 L139.3,374.0 L139.9,374.6 L140.5,374.3 L141.1,374.1 L141.7,374.4 L142.3,375.1 L142.9,375.1 L143.5,374.7 L144.1,376.3 L144.7,375.6 L145.3,374.8 L145.9,374.1 L146.5,376.1 L147.1,376.4 L147.7,375.4 L148.3,376.1 L148.9,377.0 L149.5,377.3 L150.1,376.4 L150.7,376.7 L151.3,377.0 L151.9,377.1 L152.5,376.4 L153.1,377.0 L153.7,375.9 L154.3,376.7 L154.9,377.6 L155.5,376.5 L156.1,376.5 L156.7,375.9 L157.3,376.8 L157.9,377.2 L158.5,377.9 L159.1,376.3 L159.7,377.8 L160.3,378.2 L160.9,377.0 L161.5,376.6 L162.1,378.0 L162.7,378.0 L163.3,376.7 L163.9,378.2 L164.5,377.8 L165.1,377.6 L165.7,377.4 L166.3,377.2 L166.9,376.7 L167.5,376.9 L168.1,378.6 L168.7,378.4 L169.3,378.4 L169.9,379.1 L170.5,378.9 L171.1,378.9 L171.7,378.8 L172.3,378.0 L172.9,378.9 L173.5,378.0 L174.1,378.5 L174.7,379.3 L175.3,378.8 L175.9,379.0 L176.5,379.7 L177.1,379.6 L177.7,377.8 L178.3,379.7 L178.9,379.0 L179.5,379.5 L180.1,379.7 L180.7,379.9 L181.3,380.8 L181.9,380.6 L182.5,380.3 L183.1,380.1 L183.7,379.8 L184.3,381.2 L184.9,379.4 L185.5,380.0 L186.1,381.1 L186.7,381.5 L187.3,380.4 L187.9,381.9 L188.5,382.1 L189.1,381.8 L189.7,381.4 L190.3,381.3 L190.9,381.7 L191.5,381.2 L192.1,380.6 L192.7,380.0 L193.3,382.1 L193.9,380.4 L194.5,382.3 L195.1,380.3 L195.7,381.9 L196.3,380.5 L196.9,380.6 L197.5,380.8 L198.1,382.3 L198.7,382.3 L199.3,381.1 L199.9,380.3 L200.5,382.5 L201.1,382.4 L201.7,381.8 L202.3,382.1 L202.9,380.7 L203.5,382.1 L204.1,381.0 L204.7,381.5 L205.3,382.6 L205.9,381.9 L206.5,381.5 L207.1,380.6 L207.7,382.1 L208.3,381.6 L208.9,382.0 L209.5,379.8 L210.1,381.8 L210.7,382.0 L211.3,380.3 L211.9,381.1 L212.5,380.9 L213.1,382.4 L213.7,382.5 L214.3,381.5 L214.9,382.6 L215.5,382.2 L216.1,381.8 L216.7,381.7 L217.3,380.3 L217.9,380.5 L218.5,382.2 L219.1,381.0 L219.7,381.0 L220.3,382.8 L220.9,382.6 L221.5,381.4 L222.1,383.3 L222.7,383.6 L223.3,381.6 L223.9,382.0 L224.5,382.3 L225.1,382.7 L225.7,383.1 L226.3,381.2 L226.9,381.3 L227.5,381.3 L228.1,381.8 L228.7,382.7 L229.3,381.8 L229.9,383.7 L230.5,381.0 L231.1,382.9 L231.7,383.5 L232.3,381.2 L232.9,382.8 L233.5,381.4 L234.1,382.2 L234.7,382.1 L235.3,380.8 L235.9,383.0 L236.5,381.4 L237.1,382.5 L237.7,382.7 L238.3,383.2 L238.9,383.1 L239.5,383.1 L240.1,381.8 L240.7,383.7 L241.3,381.5 L241.9,381.9 L242.5,382.0 L243.1,381.8 L243.7,383.1 L244.3,383.9 L244.9,382.5 L245.5,383.1 L246.1,382.7 L246.7,382.5 L247.3,382.3 L247.9,383.8 L248.5,382.9 L249.1,384.1 L249.7,384.2 L250.3,382.5 L250.9,384.7 L251.5,384.0 L252.1,382.4 L252.7,384.5 L253.3,383.1 L253.9,383.6 L254.5,384.5 L255.1,383.1 L255.7,383.0 L256.3,384.2 L256.9,382.8 L257.5,382.5 L258.1,382.6" fill="none" stroke="#16e04a" stroke-width="3.8" stroke-linejoin="round" stroke-linecap="round"/>
<g><path d="M60.5,296.8 L61.1,297.1 L61.7,296.9 L62.3,295.7 L62.9,296.1 L63.5,295.1 L64.1,295.1 L64.7,295.4 L65.3,294.3 L65.9,295.3 L66.5,293.9 L67.1,293.9 L67.7,293.7 L68.3,294.5 L68.9,293.1 L69.5,294.4 L70.1,294.2 L70.7,293.6 L71.3,293.7 L71.9,293.7 L72.5,292.6 L73.1,292.0 L73.7,291.5 L74.3,292.2 L74.9,291.9 L75.5,291.0 L76.1,291.3 L76.7,291.0 L77.3,290.2 L77.9,290.2 L78.5,291.5 L79.1,290.9 L79.7,290.2 L80.3,288.7 L80.9,290.0 L81.5,289.4 L82.1,289.8 L82.7,288.4 L83.3,289.0 L83.9,288.6 L84.5,288.8 L85.1,288.5 L85.7,286.9 L86.3,287.9 L86.9,287.7 L87.5,286.4 L88.1,285.9 L88.7,284.5 L89.3,280.8 L89.9,277.7 L90.5,278.8 L91.1,278.0 L91.7,279.0 L92.3,278.0 L92.9,278.6 L93.5,277.4 L94.1,276.8 L94.7,278.4 L95.3,277.9 L95.9,276.8 L96.5,277.3 L97.1,276.3 L97.7,277.3 L98.3,276.6 L98.9,276.9 L99.5,275.8 L100.1,275.2 L100.7,276.6 L101.3,276.0 L101.9,275.2 L102.5,274.6 L103.1,275.8 L103.7,275.4 L104.3,275.2 L104.9,275.2 L105.5,274.8 L106.1,274.0 L106.7,274.4 L107.3,274.6 L107.9,273.8 L108.5,273.2 L109.1,273.2 L109.7,273.3 L110.3,273.3 L110.9,272.7 L111.5,273.1 L112.1,272.9 L112.7,272.7 L113.3,273.4 L113.9,272.3 L114.5,272.5 L115.1,271.9 L115.7,272.4 L116.3,271.2 L116.9,272.0 L117.5,271.6 L118.1,272.2 L118.7,271.9 L119.3,270.2 L119.9,271.1 L120.5,270.9 L121.1,269.5 L121.7,269.8 L122.3,269.2 L122.9,269.1 L123.5,268.6 L124.1,269.3 L124.7,269.7 L125.3,270.2 L125.9,268.8 L126.5,268.6 L127.1,269.3 L127.7,267.5 L128.3,267.8 L128.9,268.3 L129.5,269.7 L130.1,268.6 L130.7,269.2 L131.3,267.9 L131.9,268.7 L132.5,269.8 L133.1,268.3 L133.7,267.6 L134.3,268.3 L134.9,267.3 L135.5,268.9 L136.1,267.7 L136.7,267.0 L137.3,267.5 L137.9,268.8 L138.5,267.3 L139.1,267.9 L139.7,267.2 L140.3,267.8 L140.9,267.4 L141.5,267.3 L142.1,266.4 L142.7,267.7 L143.3,266.5 L143.9,267.3 L144.5,265.8 L145.1,265.4 L145.7,266.0 L146.3,266.4 L146.9,266.6 L147.5,265.5 L148.1,266.0 L148.7,265.9 L149.3,266.0 L149.9,265.5 L150.5,266.1 L151.1,264.8 L151.7,266.3 L152.3,265.6 L152.9,265.7 L153.5,265.1 L154.1,265.4 L154.7,265.9 L155.3,264.5 L155.9,264.3 L156.5,265.5 L157.1,265.1 L157.7,264.3 L158.3,264.9 L158.9,263.6 L159.5,264.5 L160.1,263.9 L160.7,264.2 L161.3,263.1 L161.9,264.6 L162.5,264.4 L163.1,264.2 L163.7,265.1 L164.3,262.9 L164.9,263.4 L165.5,265.2 L166.1,263.2 L166.7,264.7 L167.3,263.6 L167.9,262.4 L168.5,262.1 L169.1,262.6 L169.7,261.5 L170.3,263.2 L170.9,262.0 L171.5,262.4 L172.1,262.8 L172.7,262.8 L173.3,263.1 L173.9,262.6 L174.5,263.3 L175.1,262.6 L175.7,262.2 L176.3,262.5 L176.9,261.0 L177.5,261.4 L178.1,261.1 L178.7,262.4 L179.3,262.1 L179.9,260.4 L180.5,260.8 L181.1,261.7 L181.7,262.3 L182.3,261.7 L182.9,259.9 L183.5,261.7 L184.1,260.0 L184.7,261.8 L185.3,260.6 L185.9,261.1 L186.5,260.7 L187.1,260.8 L187.7,260.0 L188.3,261.5 L188.9,261.1 L189.5,261.4 L190.1,261.4 L190.7,261.0 L191.3,259.5 L191.9,259.2 L192.5,260.6 L193.1,259.4 L193.7,261.5 L194.3,260.3 L194.9,259.3 L195.5,259.0 L196.1,259.5 L196.7,259.1 L197.3,259.1 L197.9,258.8 L198.5,259.1 L199.1,259.9 L199.7,259.9 L200.3,259.4 L200.9,260.1 L201.5,259.1 L202.1,259.0 L202.7,257.8 L203.3,257.2 L203.9,257.2 L204.5,259.5 L205.1,257.7 L205.7,257.6 L206.3,259.0 L206.9,257.4 L207.5,259.4 L208.1,258.2 L208.7,257.3 L209.3,258.9 L209.9,256.8 L210.5,259.3 L211.1,257.5 L211.7,256.4 L212.3,257.9 L212.9,256.9 L213.5,256.6 L214.1,256.4 L214.7,257.1 L215.3,255.9 L215.9,258.1 L216.5,256.6 L217.1,256.7 L217.7,255.8 L218.3,256.2 L218.9,256.9 L219.5,256.2 L220.1,256.6 L220.7,256.7 L221.3,256.8 L221.9,257.8 L222.5,256.3 L223.1,256.0 L223.7,255.8 L224.3,256.8 L224.9,255.8 L225.5,254.8 L226.1,254.6 L226.7,256.0 L227.3,254.4 L227.9,254.6 L228.5,255.0 L229.1,254.4 L229.7,255.0 L230.3,255.9 L230.9,256.5 L231.5,256.4 L232.1,256.9 L232.7,257.4 L233.3,256.6 L233.9,256.5 L234.5,254.3 L235.1,253.8 L235.7,255.0 L236.3,253.0 L236.9,254.6 L237.5,252.6 L238.1,253.2 L238.7,255.3 L239.3,253.2 L239.9,253.4 L240.5,252.1 L241.1,254.7 L241.7,252.9 L242.3,253.2 L242.9,254.3 L243.5,255.8 L244.1,254.0 L244.7,254.9 L245.3,254.8 L245.9,256.6 L246.5,256.7 L247.1,254.2 L247.7,255.5 L248.3,256.7 L248.9,255.2 L249.5,256.3 L250.1,254.3 L250.7,254.1 L251.3,254.7 L251.9,254.7 L252.5,254.5 L253.1,256.8 L253.7,256.3 L254.3,254.7 L254.9,255.9 L255.5,254.4 L256.1,255.7 L256.7,254.5 L257.3,255.1 L257.9,256.9 L258.5,256.7" fill="none" stroke="#7aa6c4" stroke-width="4.5" stroke-linejoin="round" stroke-linecap="round"/><path d="M60.5,296.8 L61.1,297.1 L61.7,296.9 L62.3,295.7 L62.9,296.1 L63.5,295.1 L64.1,295.1 L64.7,295.4 L65.3,294.3 L65.9,295.3 L66.5,293.9 L67.1,293.9 L67.7,293.7 L68.3,294.5 L68.9,293.1 L69.5,294.4 L70.1,294.2 L70.7,293.6 L71.3,293.7 L71.9,293.7 L72.5,292.6 L73.1,292.0 L73.7,291.5 L74.3,292.2 L74.9,291.9 L75.5,291.0 L76.1,291.3 L76.7,291.0 L77.3,290.2 L77.9,290.2 L78.5,291.5 L79.1,290.9 L79.7,290.2 L80.3,288.7 L80.9,290.0 L81.5,289.4 L82.1,289.8 L82.7,288.4 L83.3,289.0 L83.9,288.6 L84.5,288.8 L85.1,288.5 L85.7,286.9 L86.3,287.9 L86.9,287.7 L87.5,286.4 L88.1,285.9 L88.7,284.5 L89.3,280.8 L89.9,277.7 L90.5,278.8 L91.1,278.0 L91.7,279.0 L92.3,278.0 L92.9,278.6 L93.5,277.4 L94.1,276.8 L94.7,278.4 L95.3,277.9 L95.9,276.8 L96.5,277.3 L97.1,276.3 L97.7,277.3 L98.3,276.6 L98.9,276.9 L99.5,275.8 L100.1,275.2 L100.7,276.6 L101.3,276.0 L101.9,275.2 L102.5,274.6 L103.1,275.8 L103.7,275.4 L104.3,275.2 L104.9,275.2 L105.5,274.8 L106.1,274.0 L106.7,274.4 L107.3,274.6 L107.9,273.8 L108.5,273.2 L109.1,273.2 L109.7,273.3 L110.3,273.3 L110.9,272.7 L111.5,273.1 L112.1,272.9 L112.7,272.7 L113.3,273.4 L113.9,272.3 L114.5,272.5 L115.1,271.9 L115.7,272.4 L116.3,271.2 L116.9,272.0 L117.5,271.6 L118.1,272.2 L118.7,271.9 L119.3,270.2 L119.9,271.1 L120.5,270.9 L121.1,269.5 L121.7,269.8 L122.3,269.2 L122.9,269.1 L123.5,268.6 L124.1,269.3 L124.7,269.7 L125.3,270.2 L125.9,268.8 L126.5,268.6 L127.1,269.3 L127.7,267.5 L128.3,267.8 L128.9,268.3 L129.5,269.7 L130.1,268.6 L130.7,269.2 L131.3,267.9 L131.9,268.7 L132.5,269.8 L133.1,268.3 L133.7,267.6 L134.3,268.3 L134.9,267.3 L135.5,268.9 L136.1,267.7 L136.7,267.0 L137.3,267.5 L137.9,268.8 L138.5,267.3 L139.1,267.9 L139.7,267.2 L140.3,267.8 L140.9,267.4 L141.5,267.3 L142.1,266.4 L142.7,267.7 L143.3,266.5 L143.9,267.3 L144.5,265.8 L145.1,265.4 L145.7,266.0 L146.3,266.4 L146.9,266.6 L147.5,265.5 L148.1,266.0 L148.7,265.9 L149.3,266.0 L149.9,265.5 L150.5,266.1 L151.1,264.8 L151.7,266.3 L152.3,265.6 L152.9,265.7 L153.5,265.1 L154.1,265.4 L154.7,265.9 L155.3,264.5 L155.9,264.3 L156.5,265.5 L157.1,265.1 L157.7,264.3 L158.3,264.9 L158.9,263.6 L159.5,264.5 L160.1,263.9 L160.7,264.2 L161.3,263.1 L161.9,264.6 L162.5,264.4 L163.1,264.2 L163.7,265.1 L164.3,262.9 L164.9,263.4 L165.5,265.2 L166.1,263.2 L166.7,264.7 L167.3,263.6 L167.9,262.4 L168.5,262.1 L169.1,262.6 L169.7,261.5 L170.3,263.2 L170.9,262.0 L171.5,262.4 L172.1,262.8 L172.7,262.8 L173.3,263.1 L173.9,262.6 L174.5,263.3 L175.1,262.6 L175.7,262.2 L176.3,262.5 L176.9,261.0 L177.5,261.4 L178.1,261.1 L178.7,262.4 L179.3,262.1 L179.9,260.4 L180.5,260.8 L181.1,261.7 L181.7,262.3 L182.3,261.7 L182.9,259.9 L183.5,261.7 L184.1,260.0 L184.7,261.8 L185.3,260.6 L185.9,261.1 L186.5,260.7 L187.1,260.8 L187.7,260.0 L188.3,261.5 L188.9,261.1 L189.5,261.4 L190.1,261.4 L190.7,261.0 L191.3,259.5 L191.9,259.2 L192.5,260.6 L193.1,259.4 L193.7,261.5 L194.3,260.3 L194.9,259.3 L195.5,259.0 L196.1,259.5 L196.7,259.1 L197.3,259.1 L197.9,258.8 L198.5,259.1 L199.1,259.9 L199.7,259.9 L200.3,259.4 L200.9,260.1 L201.5,259.1 L202.1,259.0 L202.7,257.8 L203.3,257.2 L203.9,257.2 L204.5,259.5 L205.1,257.7 L205.7,257.6 L206.3,259.0 L206.9,257.4 L207.5,259.4 L208.1,258.2 L208.7,257.3 L209.3,258.9 L209.9,256.8 L210.5,259.3 L211.1,257.5 L211.7,256.4 L212.3,257.9 L212.9,256.9 L213.5,256.6 L214.1,256.4 L214.7,257.1 L215.3,255.9 L215.9,258.1 L216.5,256.6 L217.1,256.7 L217.7,255.8 L218.3,256.2 L218.9,256.9 L219.5,256.2 L220.1,256.6 L220.7,256.7 L221.3,256.8 L221.9,257.8 L222.5,256.3 L223.1,256.0 L223.7,255.8 L224.3,256.8 L224.9,255.8 L225.5,254.8 L226.1,254.6 L226.7,256.0 L227.3,254.4 L227.9,254.6 L228.5,255.0 L229.1,254.4 L229.7,255.0 L230.3,255.9 L230.9,256.5 L231.5,256.4 L232.1,256.9 L232.7,257.4 L233.3,256.6 L233.9,256.5 L234.5,254.3 L235.1,253.8 L235.7,255.0 L236.3,253.0 L236.9,254.6 L237.5,252.6 L238.1,253.2 L238.7,255.3 L239.3,253.2 L239.9,253.4 L240.5,252.1 L241.1,254.7 L241.7,252.9 L242.3,253.2 L242.9,254.3 L243.5,255.8 L244.1,254.0 L244.7,254.9 L245.3,254.8 L245.9,256.6 L246.5,256.7 L247.1,254.2 L247.7,255.5 L248.3,256.7 L248.9,255.2 L249.5,256.3 L250.1,254.3 L250.7,254.1 L251.3,254.7 L251.9,254.7 L252.5,254.5 L253.1,256.8 L253.7,256.3 L254.3,254.7 L254.9,255.9 L255.5,254.4 L256.1,255.7 L256.7,254.5 L257.3,255.1 L257.9,256.9 L258.5,256.7" fill="none" stroke="#f34b9c" stroke-width="3.8" stroke-linejoin="round" stroke-linecap="round"/></g>
<line x1="97.5" y1="300.4" x2="101.1" y2="300.4" stroke="#0a0a0a" stroke-width="3.6" stroke-linecap="round"/>
<text x="104.5" y="303" font-size="11.3" font-family="Liberation Sans, sans-serif" fill="#1a1a1a">Left Kidney</text>
<line x1="97.7" y1="316.5" x2="101.3" y2="316.5" stroke="#ff1010" stroke-width="3.6" stroke-linecap="round"/>
<text x="104.5" y="320.2" font-size="11.3" font-family="Liberation Sans, sans-serif" fill="#1a1a1a">Right Kidney</text>
<line x1="176.39999999999998" y1="285.8" x2="180.0" y2="285.8" stroke="#16e04a" stroke-width="3.6" stroke-linecap="round"/>
<text x="185.6" y="289.6" font-size="11.3" font-family="Liberation Sans, sans-serif" fill="#1a1a1a">Heart</text>
<line x1="176.39999999999998" y1="301.1" x2="180.0" y2="301.1" stroke="#e85aa0" stroke-width="3.6" stroke-linecap="round"/>
<text x="185.6" y="305.7" font-size="11.3" font-family="Liberation Sans, sans-serif" fill="#1a1a1a">Liver</text>
<line x1="176.39999999999998" y1="317.3" x2="180.0" y2="317.3" stroke="#c241ec" stroke-width="3.6" stroke-linecap="round"/>
<text x="185.6" y="320" font-size="11.3" font-family="Liberation Sans, sans-serif" fill="#1a1a1a">Head &amp; Neck</text>
<text x="274.6" y="243.9" font-size="18.5" font-family="Liberation Sans, sans-serif">D</text>
<rect x="329.4" y="245.3" width="204.8" height="149.8" fill="none" stroke="#000" stroke-width="1.9"/>
<line x1="329.4" y1="365.2" x2="335.5" y2="365.2" stroke="#000" stroke-width="1.6"/>
<text x="321.4" y="369.3" font-size="11" text-anchor="end" font-family="Liberation Sans, sans-serif" fill="#222">1.0</text>
<line x1="329.4" y1="325.6" x2="335.5" y2="325.6" stroke="#000" stroke-width="1.6"/>
<text x="321.4" y="329.7" font-size="11" text-anchor="end" font-family="Liberation Sans, sans-serif" fill="#222">2.0</text>
<line x1="329.4" y1="284.9" x2="335.5" y2="284.9" stroke="#000" stroke-width="1.6"/>
<text x="321.4" y="289.0" font-size="11" text-anchor="end" font-family="Liberation Sans, sans-serif" fill="#222">3.0</text>
<text x="321.4" y="250.8" font-size="11" text-anchor="end" font-family="Liberation Sans, sans-serif" fill="#222">4.0</text>
<text x="321.2" y="399.8" font-size="11" text-anchor="end" font-family="Liberation Sans, sans-serif" fill="#222">0</text>
<text x="329.4" y="411.5" font-size="11" text-anchor="middle" font-family="Liberation Sans, sans-serif" fill="#222">0</text>
<line x1="363.5" y1="395" x2="363.5" y2="390" stroke="#000" stroke-width="1.6"/>
<text x="363.5" y="411.5" font-size="11" text-anchor="middle" font-family="Liberation Sans, sans-serif" fill="#222">20</text>
<line x1="397.7" y1="395" x2="397.7" y2="390" stroke="#000" stroke-width="1.6"/>
<text x="397.7" y="411.5" font-size="11" text-anchor="middle" font-family="Liberation Sans, sans-serif" fill="#222">40</text>
<line x1="431.8" y1="395" x2="431.8" y2="390" stroke="#000" stroke-width="1.6"/>
<text x="431.8" y="411.5" font-size="11" text-anchor="middle" font-family="Liberation Sans, sans-serif" fill="#222">60</text>
<line x1="465.9" y1="395" x2="465.9" y2="390" stroke="#000" stroke-width="1.6"/>
<text x="465.9" y="411.5" font-size="11" text-anchor="middle" font-family="Liberation Sans, sans-serif" fill="#222">80</text>
<line x1="500.1" y1="395" x2="500.1" y2="390" stroke="#000" stroke-width="1.6"/>
<text x="500.1" y="411.5" font-size="11" text-anchor="middle" font-family="Liberation Sans, sans-serif" fill="#222">100</text>
<text x="534.2" y="411.5" font-size="11" text-anchor="middle" font-family="Liberation Sans, sans-serif" fill="#222">120</text>
<text x="441" y="425.3" font-size="11" text-anchor="middle" font-family="Liberation Sans, sans-serif" fill="#222">Time, <tspan font-style="italic">min</tspan></text>
<text transform="translate(294.1,314.6) rotate(-90)" font-size="11.4" text-anchor="middle" font-family="Liberation Sans, sans-serif" fill="#222">kCounts/second</text>
<path d="M332.4,385.0 L333.1,383.8 L333.8,382.9 L334.5,381.2 L335.2,380.0 L335.9,378.8 L336.6,377.3 L337.3,376.3 L338.0,375.2 L338.7,374.2 L339.4,372.4 L340.1,371.4 L340.8,370.1 L341.5,369.6 L342.2,368.3 L342.9,366.6 L343.6,366.3 L344.3,365.2 L345.0,363.8 L345.7,362.6 L346.4,361.1 L347.1,359.9 L347.8,359.3 L348.5,357.8 L349.2,356.9 L349.9,355.9 L350.6,354.7 L351.3,354.0 L352.0,353.0 L352.7,352.3 L353.4,351.0 L354.1,350.1 L354.8,349.0 L355.5,348.2 L356.2,347.0 L356.9,345.9 L357.6,345.6 L358.3,344.6 L359.0,343.5 L359.7,342.5 L360.4,341.2 L361.1,340.2 L361.8,339.3 L362.5,338.2 L363.2,337.9 L363.9,336.7 L364.6,336.2 L365.3,334.9 L366.0,334.6 L366.7,333.6 L367.4,332.0 L368.1,331.3 L368.8,331.1 L369.5,329.9 L370.2,329.5 L370.9,328.1 L371.6,327.0 L372.3,326.7 L373.0,326.0 L373.7,324.8 L374.4,323.8 L375.1,323.2 L375.8,323.0 L376.5,322.1 L377.2,320.7 L377.9,320.1 L378.6,319.2 L379.3,318.4 L380.0,318.3 L380.7,317.0 L381.4,316.6 L382.1,315.8 L382.8,314.8 L383.5,314.6 L384.2,313.4 L384.9,313.1 L385.6,311.9 L386.3,311.5 L387.0,310.6 L387.7,310.0 L388.4,310.0 L389.1,309.1 L389.8,308.0 L390.5,307.9 L391.2,306.6 L391.9,306.1 L392.6,305.9 L393.3,305.1 L394.0,303.9 L394.7,304.1 L395.4,302.8 L396.1,302.2 L396.8,302.0 L397.5,301.0 L398.2,300.4 L398.9,299.6 L399.6,299.0 L400.3,298.9 L401.0,298.0 L401.7,297.7 L402.4,296.9 L403.1,296.4 L403.8,296.3 L404.5,295.3 L405.2,294.8 L405.9,294.5 L406.6,293.4 L407.3,292.8 L408.0,292.9 L408.7,292.3 L409.4,291.3 L410.1,290.7 L410.8,290.6 L411.5,290.3 L412.2,289.1 L412.9,289.3 L413.6,288.7 L414.3,287.9 L415.0,287.3 L415.7,286.5 L416.4,285.9 L417.1,286.3 L417.8,285.1 L418.5,285.1 L419.2,284.2 L419.9,284.2 L420.6,283.6 L421.3,282.8 L422.0,282.2 L422.7,282.3 L423.4,281.2 L424.1,280.9 L424.8,280.8 L425.5,280.6 L426.2,279.9 L426.9,279.2 L427.6,279.3 L428.3,278.3 L429.0,277.7 L429.7,277.5 L430.4,277.2 L431.1,276.4 L431.8,276.1 L432.5,275.9 L433.2,275.6 L433.9,274.8 L436.5,271.5 L437.2,271.8 L437.9,271.8 L438.6,271.3 L439.3,271.2 L440.0,271.0 L440.7,270.5 L441.4,270.2 L442.1,270.1 L442.8,270.8 L443.5,270.4 L444.2,270.5 L444.9,269.6 L445.6,270.0 L446.3,269.7 L447.0,269.8 L447.7,269.3 L448.4,269.8 L449.1,268.8 L449.8,269.1 L450.5,269.1 L451.2,269.1 L451.9,268.9 L452.6,268.7 L453.3,268.6 L454.0,268.6 L454.7,268.0 L455.4,268.1 L456.1,268.2 L456.8,268.0 L457.5,267.5 L458.2,267.7 L458.9,267.6 L459.6,267.2 L460.3,267.2 L461.0,266.8 L461.7,266.8 L462.4,266.7 L463.1,266.1 L463.8,266.5 L464.5,266.7 L465.2,266.4 L465.9,266.2 L466.6,265.7 L467.3,265.9 L468.0,265.6 L468.7,265.4 L469.4,265.6 L470.1,264.8 L470.8,265.3 L471.5,264.5 L472.2,264.9 L472.9,264.6 L473.6,264.2 L474.3,264.5 L475.0,264.2 L475.7,264.2 L476.4,264.3 L477.1,263.6 L477.8,263.2 L478.5,263.4 L479.2,263.6 L479.9,263.0 L480.6,262.9 L481.3,263.4 L482.0,263.0 L482.7,262.7 L483.4,263.0 L484.1,262.3 L484.8,262.5 L485.5,261.9 L486.2,262.0 L486.6,262.0 L487.0,352.2 L488.1,351.7 L488.8,351.6 L489.5,351.8 L490.2,351.5 L490.9,351.4 L491.6,351.0 L492.3,351.2 L493.0,350.8 L493.7,350.5 L494.4,350.1 L495.1,349.7 L495.8,350.2 L496.5,349.4 L497.2,350.1 L497.9,349.4 L498.6,349.0 L499.3,348.8 L500.0,348.6 L500.7,349.0 L501.4,348.5 L502.1,348.5 L502.8,348.0 L503.5,348.8 L504.2,348.5 L504.9,348.1 L505.6,348.3 L506.3,347.7 L507.0,347.9 L507.7,347.8 L508.4,347.9 L509.1,347.5 L509.8,347.3 L510.5,347.5 L511.2,347.2 L511.9,347.2 L512.6,346.6 L513.3,346.9 L514.0,346.6 L514.7,346.3 L515.4,346.9 L516.1,346.8 L516.8,346.7 L517.5,345.9 L518.2,346.6 L518.9,345.8 L519.6,345.9 L520.3,345.5 L521.0,345.8 L521.7,346.2 L522.4,345.3 L523.1,345.8 L523.8,345.7 L524.5,345.4 L525.2,345.4 L525.9,345.5 L526.6,344.8 L527.3,345.3 L528.0,345.2 L528.7,344.9 L529.4,344.4 L530.1,344.3 L530.8,344.6 L531.5,344.6" fill="none" stroke="#1010f4" stroke-width="3.7" stroke-linejoin="round" stroke-linecap="round"/>
<line x1="342" y1="260.4" x2="346.2" y2="260.4" stroke="#1010f4" stroke-width="3.6" stroke-linecap="round"/>
<text x="351" y="265.3" font-size="11.1" font-family="Liberation Sans, sans-serif" fill="#1a1a1a">Bladder</text>
</svg></body></html>
